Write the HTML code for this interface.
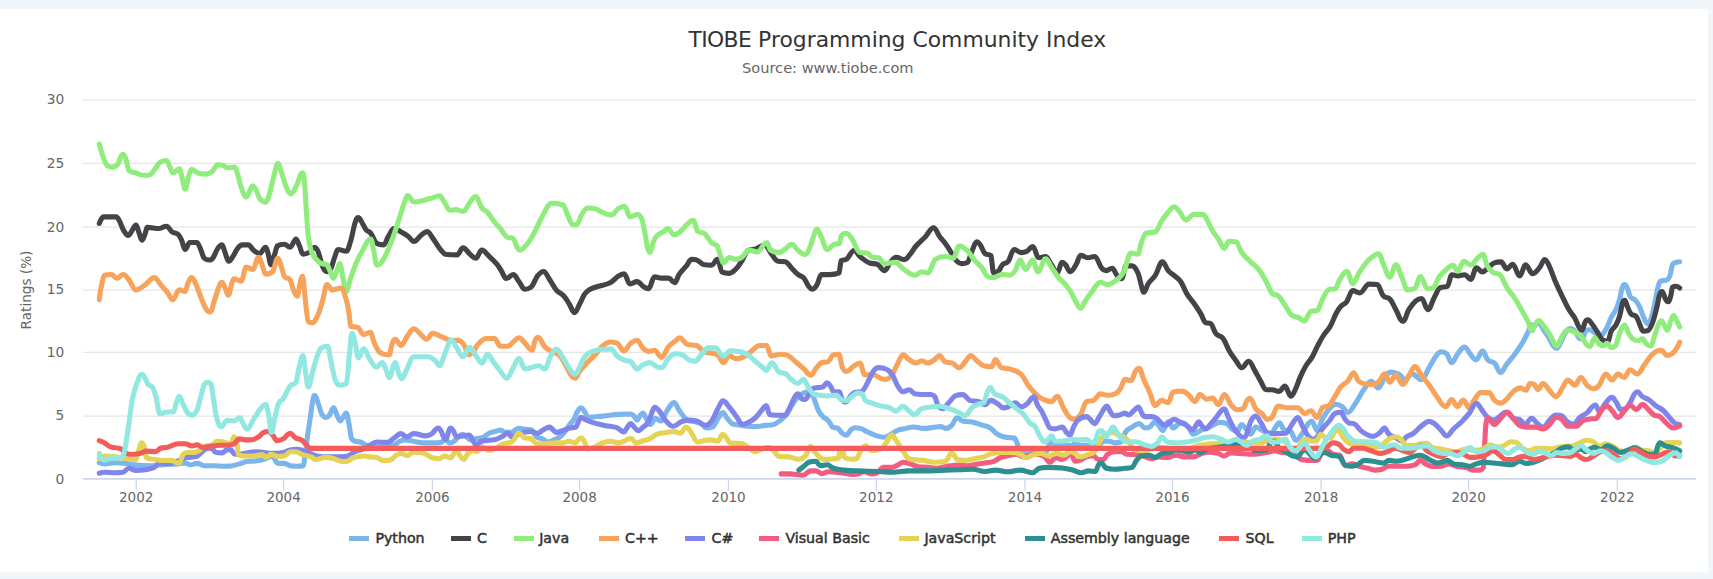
<!DOCTYPE html>
<html><head><meta charset="utf-8"><title>TIOBE Programming Community Index</title>
<style>
html,body{margin:0;padding:0;background:#f1f6fb;}
body{width:1713px;height:579px;position:relative;overflow:hidden;}
.card{position:absolute;left:0;top:9px;width:1708px;height:563px;background:#fff;}
.t{position:absolute;white-space:nowrap;}
</style></head><body>
<div class="card"></div>
<svg width="1713" height="579" viewBox="0 0 1713 579" style="position:absolute;left:0;top:0">
<line x1="83" x2="1696" y1="416.1" y2="416.1" stroke="#e6e6e6" stroke-width="1.25"/>
<line x1="83" x2="1696" y1="352.4" y2="352.4" stroke="#e6e6e6" stroke-width="1.25"/>
<line x1="83" x2="1696" y1="290.0" y2="290.0" stroke="#e6e6e6" stroke-width="1.25"/>
<line x1="83" x2="1696" y1="227.1" y2="227.1" stroke="#e6e6e6" stroke-width="1.25"/>
<line x1="83" x2="1696" y1="163.4" y2="163.4" stroke="#e6e6e6" stroke-width="1.25"/>
<line x1="83" x2="1696" y1="100.0" y2="100.0" stroke="#e6e6e6" stroke-width="1.25"/>
<line x1="83" x2="1696" y1="478.9" y2="478.9" stroke="#ccd6eb" stroke-width="1.6"/>
<line x1="136.2" x2="136.2" y1="478.9" y2="490.7" stroke="#ccd6eb" stroke-width="1.25"/>
<line x1="283.6" x2="283.6" y1="478.9" y2="490.7" stroke="#ccd6eb" stroke-width="1.25"/>
<line x1="432.4" x2="432.4" y1="478.9" y2="490.7" stroke="#ccd6eb" stroke-width="1.25"/>
<line x1="579.6" x2="579.6" y1="478.9" y2="490.7" stroke="#ccd6eb" stroke-width="1.25"/>
<line x1="728.5" x2="728.5" y1="478.9" y2="490.7" stroke="#ccd6eb" stroke-width="1.25"/>
<line x1="876.3" x2="876.3" y1="478.9" y2="490.7" stroke="#ccd6eb" stroke-width="1.25"/>
<line x1="1025.0" x2="1025.0" y1="478.9" y2="490.7" stroke="#ccd6eb" stroke-width="1.25"/>
<line x1="1172.5" x2="1172.5" y1="478.9" y2="490.7" stroke="#ccd6eb" stroke-width="1.25"/>
<line x1="1321.1" x2="1321.1" y1="478.9" y2="490.7" stroke="#ccd6eb" stroke-width="1.25"/>
<line x1="1468.6" x2="1468.6" y1="478.9" y2="490.7" stroke="#ccd6eb" stroke-width="1.25"/>
<line x1="1617.3" x2="1617.3" y1="478.9" y2="490.7" stroke="#ccd6eb" stroke-width="1.25"/>
<path d="M99.3 462.7C99.3 462.7 102.4 463.9 104.5 463.9C108.7 463.9 110.8 462.7 115.0 462.7C119.2 462.7 121.3 462.9 125.5 463.4C129.7 463.9 131.8 464.7 136.0 465.1C141.6 465.6 144.5 465.7 150.1 465.7C157.1 465.7 160.6 464.8 167.6 464.4C171.8 464.1 173.9 464.2 178.1 463.9C180.9 463.7 182.3 463.0 185.1 463.0C187.2 463.0 188.2 464.8 190.3 464.8C193.1 464.8 194.5 463.4 197.3 463.4C200.1 463.4 201.5 465.7 204.3 465.7C208.5 465.7 210.7 465.7 214.9 465.7C218.4 465.7 220.1 466.2 223.6 466.2C227.1 466.2 228.9 466.2 232.4 465.7C235.2 465.2 236.6 464.7 239.4 463.9C242.2 463.1 243.6 462.1 246.4 461.6C249.9 460.9 251.6 461.4 255.1 460.9C258.6 460.4 260.4 460.1 263.9 459.2C266.3 458.5 267.6 457.8 270.0 456.9C271.0 456.5 271.6 456.0 272.6 456.0C273.7 456.0 274.2 458.9 275.3 460.4C276.3 461.9 276.9 463.4 277.9 463.4C280.3 463.4 281.6 463.4 284.0 463.4C286.5 463.4 287.7 465.2 290.2 465.7C293.0 466.2 294.4 466.2 297.2 466.2C299.6 466.2 300.9 466.2 303.3 465.7C304.0 465.2 304.3 460.7 305.0 456.0C306.1 448.5 306.6 442.8 307.7 435.0C308.7 427.4 309.3 424.5 310.3 417.5C311.3 410.5 311.9 405.3 312.9 400.0C313.6 396.4 314.0 395.2 314.7 395.2C316.1 395.2 316.8 399.6 318.2 403.4C319.6 407.2 320.3 411.5 321.7 414.0C323.5 417.1 324.3 417.5 326.1 417.5C327.5 417.5 328.2 416.7 329.6 414.9C331.2 412.9 332.0 407.9 333.6 407.9C334.8 407.9 335.4 411.6 336.6 414.0C338.0 416.8 338.7 421.0 340.1 421.0C341.5 421.0 342.2 418.4 343.6 416.6C344.6 415.3 345.2 413.1 346.2 413.1C347.2 413.1 347.8 417.8 348.8 422.8C349.9 428.0 350.4 435.8 351.5 438.5C352.9 441.2 353.6 440.4 355.0 441.2C357.1 442.0 358.1 441.3 360.2 442.0C363.0 443.0 364.4 444.8 367.2 445.5C372.3 446.8 374.9 447.0 380.0 447.0C383.0 447.0 384.5 446.0 387.5 445.5C390.3 445.1 391.7 445.5 394.5 444.7C396.6 443.9 397.7 442.2 399.8 441.2C401.9 440.2 402.9 439.9 405.0 439.9C409.2 439.9 411.3 441.1 415.5 441.7C419.7 442.3 421.8 442.9 426.0 442.9C430.2 442.9 432.3 442.9 436.5 442.9C438.6 442.9 439.7 442.8 441.8 442.0C443.2 441.4 443.9 439.4 445.3 439.4C447.1 439.4 447.9 442.9 449.7 442.9C451.5 442.9 452.3 442.5 454.1 441.2C456.2 439.7 457.2 437.6 459.3 435.9C460.7 434.8 461.4 434.2 462.8 434.2C464.6 434.2 465.4 436.4 467.2 437.7C468.6 438.7 469.3 439.9 470.7 439.9C473.1 439.9 474.4 439.0 476.8 438.5C478.9 438.1 480.0 438.5 482.1 437.7C484.9 436.9 486.3 434.6 489.1 433.3C491.9 432.0 493.3 432.0 496.1 431.2C497.9 430.7 498.7 430.1 500.5 430.1C502.6 430.1 503.6 432.4 505.7 432.4C508.2 432.4 509.4 432.4 511.9 432.4C513.3 432.4 514.0 430.6 515.4 429.8C516.8 429.0 517.5 428.4 518.9 428.4C521.7 428.4 523.1 429.1 525.9 429.4C528.0 429.6 529.0 429.4 531.1 429.8C533.2 430.2 534.3 435.1 536.4 436.8C538.8 438.7 540.1 437.8 542.5 438.9C544.6 439.9 545.7 442.0 547.8 442.0C550.2 442.0 551.5 440.9 553.9 439.9C556.3 438.9 557.6 438.5 560.0 436.8C561.8 435.5 562.6 434.6 564.4 432.4C566.5 429.7 567.6 427.4 569.7 424.5C571.4 422.2 572.3 422.2 574.0 419.3C575.4 416.9 576.1 413.7 577.5 411.4C578.9 409.1 579.6 407.9 581.0 407.9C582.4 407.9 583.1 409.5 584.5 411.4C585.9 413.3 586.6 417.2 588.0 417.2C594.0 417.2 596.9 416.6 602.9 416.1C609.2 415.5 612.4 414.9 618.7 414.4C623.6 414.0 626.1 414.0 631.0 414.0C632.4 414.0 633.1 415.2 634.5 416.6C635.5 417.6 636.1 420.1 637.1 420.1C638.5 420.1 639.2 416.6 640.6 414.9C641.5 413.8 642.0 413.1 642.9 413.1C644.1 413.1 644.6 415.7 645.8 417.5C647.6 420.2 648.4 424.5 650.2 424.5C652.3 424.5 653.4 418.4 655.5 418.4C657.7 418.4 658.8 421.0 661.0 421.0C663.0 421.0 664.1 415.7 666.1 412.3C667.9 409.4 668.7 407.5 670.5 405.3C671.9 403.6 672.6 402.6 674.0 402.6C676.1 402.6 677.2 407.6 679.3 410.5C682.1 414.3 683.5 417.3 686.3 419.3C689.8 421.8 691.5 420.9 695.0 421.9C697.5 422.6 698.7 422.3 701.2 423.6C703.3 424.7 704.3 428.0 706.4 428.0C708.8 428.0 710.1 428.0 712.5 427.1C715.0 426.2 716.2 420.9 718.7 417.5C720.4 415.1 721.3 412.6 723.0 412.6C724.4 412.6 725.2 415.7 726.6 417.5C728.7 420.1 729.7 421.8 731.8 423.6C736.0 425.4 738.1 424.8 742.3 425.4C747.2 426.0 749.7 426.6 754.6 426.6C758.8 426.6 760.9 425.9 765.1 425.4C768.6 425.0 770.3 425.4 773.8 424.5C776.8 423.6 778.4 421.8 781.4 419.4C783.6 417.6 784.8 416.9 787.0 413.9C789.0 411.2 790.0 408.2 792.0 405.0C794.0 401.8 795.0 400.2 797.0 398.0C799.0 395.8 800.0 395.3 802.0 394.0C803.7 392.9 804.6 392.0 806.3 392.0C808.5 392.0 809.6 392.0 811.8 393.1C812.9 394.2 813.5 397.2 814.6 400.1C816.2 404.4 817.1 407.8 818.7 411.1C820.4 414.4 821.2 414.9 822.9 416.6C825.1 418.8 826.2 418.4 828.4 420.8C830.0 422.6 830.9 425.6 832.5 427.0C834.7 428.4 835.9 427.0 838.1 428.4C839.7 429.8 840.6 431.8 842.2 433.2C843.9 434.6 844.7 435.3 846.4 435.3C848.0 435.3 848.9 431.9 850.5 430.4C852.1 428.9 853.0 427.7 854.6 427.7C856.8 427.7 858.0 427.7 860.2 428.4C863.0 429.1 864.3 430.5 867.1 431.8C870.4 433.3 872.1 434.2 875.4 435.3C878.7 436.4 880.3 437.3 883.6 437.3C886.4 437.3 887.8 436.0 890.6 434.6C893.4 433.2 894.7 431.5 897.5 430.4C900.8 429.1 902.4 429.1 905.7 428.4C909.0 427.7 910.7 427.0 914.0 427.0C917.9 427.0 919.8 428.4 923.7 428.4C927.6 428.4 929.5 427.8 933.4 427.4C936.3 427.1 937.7 426.6 940.6 426.6C942.9 426.6 944.1 428.4 946.4 428.4C948.7 428.4 949.9 427.2 952.2 424.9C954.1 423.0 955.1 417.7 957.0 417.7C959.2 417.7 960.3 420.1 962.5 421.0C966.3 421.9 968.3 421.1 972.1 421.9C975.8 422.7 977.7 423.7 981.4 424.9C985.0 426.1 986.7 425.9 990.3 428.0C993.1 429.6 994.5 432.4 997.3 434.2C1000.1 436.0 1001.5 436.5 1004.3 437.1C1008.5 438.1 1010.6 437.1 1014.8 438.2C1015.8 439.3 1016.4 441.2 1017.4 443.8C1018.1 445.6 1018.5 448.4 1019.2 449.0C1022.4 451.6 1023.9 451.7 1027.1 451.7C1034.8 451.7 1038.6 451.7 1046.3 451.7C1047.3 451.7 1047.9 447.6 1048.9 445.5C1050.0 443.4 1050.5 441.2 1051.6 441.2C1053.0 441.2 1053.7 444.9 1055.1 445.2C1062.1 445.5 1065.6 445.5 1072.6 445.5C1073.6 445.5 1074.2 442.9 1075.2 442.9C1077.0 442.9 1077.8 445.2 1079.6 445.2C1083.1 445.2 1084.9 445.2 1088.4 445.2C1092.6 445.2 1094.7 445.2 1098.9 444.7C1101.0 444.2 1102.0 441.2 1104.1 441.2C1106.2 441.2 1107.3 441.2 1109.4 441.2C1111.5 441.2 1112.5 442.9 1114.6 442.9C1117.1 442.9 1118.3 442.9 1120.8 442.0C1121.8 441.1 1122.4 438.9 1123.4 436.8C1124.4 434.7 1125.0 432.7 1126.0 431.5C1128.4 428.8 1129.7 428.6 1132.1 427.1C1134.9 425.4 1136.3 423.6 1139.1 423.6C1141.6 423.6 1142.8 428.0 1145.3 428.0C1147.0 428.0 1147.9 428.0 1149.6 427.1C1151.7 426.2 1152.8 421.9 1154.9 421.9C1156.7 421.9 1157.5 424.4 1159.3 426.3C1160.7 427.8 1161.4 430.6 1162.8 430.6C1164.9 430.6 1165.9 421.9 1168.0 421.9C1170.1 421.9 1171.2 428.0 1173.3 428.0C1175.1 428.0 1175.9 425.5 1177.7 424.5C1179.8 423.4 1180.8 422.8 1182.9 422.8C1185.0 422.8 1186.1 424.8 1188.2 427.1C1190.3 429.4 1191.3 434.2 1193.4 434.2C1195.5 434.2 1196.6 432.6 1198.7 431.5C1200.8 430.5 1201.8 429.8 1203.9 428.9C1206.7 427.7 1208.1 427.5 1210.9 426.3C1214.4 424.9 1216.2 422.4 1219.7 422.4C1222.5 422.4 1223.9 422.4 1226.7 423.6C1228.8 424.8 1229.9 427.3 1232.0 428.9C1234.1 430.5 1235.1 431.5 1237.2 431.5C1239.0 431.5 1239.8 424.5 1241.6 424.5C1243.1 424.5 1243.8 426.4 1245.3 428.0C1247.4 430.3 1248.4 434.2 1250.5 434.2C1252.6 434.2 1253.7 427.1 1255.8 427.1C1258.6 427.1 1260.0 429.5 1262.8 430.6C1266.3 432.0 1268.0 433.3 1271.5 433.3C1272.9 433.3 1273.6 429.9 1275.0 428.0C1276.8 425.7 1277.6 422.8 1279.4 422.8C1281.2 422.8 1282.0 428.1 1283.8 429.8C1286.6 431.5 1288.0 429.8 1290.8 431.5C1292.9 433.2 1293.9 440.3 1296.0 440.3C1298.1 440.3 1299.2 437.9 1301.3 435.0C1304.1 431.2 1305.5 427.3 1308.3 423.6C1309.7 421.7 1310.4 421.0 1311.8 421.0C1313.9 421.0 1315.0 430.6 1317.1 430.6C1319.2 430.6 1320.2 423.0 1322.3 419.3C1325.1 414.3 1326.5 411.9 1329.3 408.9C1332.1 405.9 1333.4 404.2 1336.2 404.2C1338.6 404.2 1339.7 404.9 1342.1 406.6C1344.4 408.2 1345.6 412.4 1347.9 412.4C1350.7 412.4 1352.1 408.2 1354.9 404.2C1358.6 398.9 1360.5 394.3 1364.2 389.1C1367.0 385.2 1368.4 381.4 1371.2 381.4C1374.0 381.4 1375.4 387.9 1378.2 387.9C1381.0 387.9 1382.4 379.7 1385.2 376.2C1387.5 373.3 1388.7 372.1 1391.0 372.1C1394.3 372.1 1395.9 372.6 1399.2 374.4C1401.5 375.7 1402.7 379.7 1405.0 379.7C1407.8 379.7 1409.2 373.9 1412.0 373.9C1415.7 373.9 1417.6 379.7 1421.3 379.7C1424.6 379.7 1426.2 372.2 1429.5 366.9C1432.3 362.4 1433.7 358.9 1436.5 355.3C1438.3 352.9 1439.3 351.8 1441.1 351.8C1443.5 351.8 1444.6 351.8 1447.0 354.1C1448.8 356.4 1449.8 362.7 1451.6 362.7C1454.0 362.7 1455.1 357.0 1457.5 354.1C1460.3 350.7 1461.7 347.1 1464.5 347.1C1466.8 347.1 1468.0 351.5 1470.3 354.1C1472.6 356.7 1473.8 359.9 1476.1 359.9C1478.7 359.9 1480.0 351.1 1482.6 351.1C1484.7 351.1 1485.7 357.8 1487.8 359.9C1490.6 362.7 1492.0 360.6 1494.8 363.4C1497.1 365.7 1498.3 372.7 1500.6 372.7C1502.9 372.7 1504.1 367.6 1506.4 364.6C1510.1 359.7 1512.0 358.0 1515.7 352.9C1518.5 349.1 1519.9 347.2 1522.7 342.4C1525.1 338.4 1526.2 335.5 1528.6 330.8C1529.7 328.5 1530.3 324.9 1531.4 324.9C1532.6 324.9 1533.1 326.0 1534.3 326.0C1536.0 326.0 1536.9 322.5 1538.6 322.5C1540.7 322.5 1541.7 327.2 1543.8 330.3C1545.9 333.4 1546.9 334.7 1549.0 338.1C1550.7 340.9 1551.6 343.6 1553.3 345.9C1554.7 347.7 1555.4 348.4 1556.8 348.4C1558.5 348.4 1559.4 344.6 1561.1 341.5C1563.2 337.7 1564.2 334.0 1566.3 331.2C1568.0 328.9 1568.9 328.6 1570.6 328.6C1572.3 328.6 1573.2 329.3 1574.9 331.2C1577.0 333.5 1578.0 338.9 1580.1 338.9C1581.1 338.9 1581.7 338.9 1582.7 338.1C1584.1 337.3 1584.7 330.8 1586.1 330.3C1587.5 329.8 1588.2 329.8 1589.6 329.8C1591.7 329.8 1592.7 331.5 1594.8 332.9C1596.5 334.1 1597.4 336.4 1599.1 336.4C1600.5 336.4 1601.1 336.1 1602.5 334.6C1604.3 332.6 1605.1 331.2 1606.9 327.7C1608.6 324.3 1609.5 320.8 1611.2 317.4C1613.3 313.2 1614.3 313.3 1616.4 308.7C1617.8 305.7 1618.4 303.3 1619.8 298.4C1620.8 294.7 1621.4 289.7 1622.4 287.1C1623.3 284.5 1623.8 284.5 1624.7 284.5C1625.9 284.5 1626.4 286.3 1627.6 288.9C1628.6 291.2 1629.2 295.1 1630.2 296.6C1632.3 299.6 1633.3 297.8 1635.4 300.1C1637.1 302.0 1638.0 303.4 1639.7 307.0C1641.4 310.6 1642.3 314.7 1644.0 318.2C1645.7 321.7 1646.6 324.3 1648.3 324.3C1649.3 324.3 1649.9 322.3 1650.9 319.1C1652.3 314.7 1653.0 311.6 1654.4 305.3C1655.8 299.2 1656.4 293.5 1657.8 288.0C1658.8 283.8 1659.4 282.0 1660.4 281.1C1662.8 280.2 1664.0 281.1 1666.4 280.2C1667.8 279.3 1668.5 279.5 1669.9 275.9C1670.9 273.3 1671.5 267.0 1672.5 264.7C1673.9 262.4 1674.5 263.0 1675.9 262.4C1677.4 261.8 1679.7 261.7 1679.7 261.7" fill="none" stroke="#7cb5ec" stroke-width="5.1" stroke-linejoin="round" stroke-linecap="round"/>
<path d="M99.3 223.4C99.3 223.4 101.8 216.9 103.4 216.9C108.5 216.9 111.1 216.9 116.2 216.9C117.6 216.9 118.3 218.9 119.7 221.5C121.1 224.1 121.8 227.4 123.2 229.7C125.2 233.0 126.3 235.5 128.3 235.5C130.0 235.5 130.8 232.0 132.5 229.7C133.9 227.8 134.6 225.0 136.0 225.0C137.1 225.0 137.7 229.1 138.8 232.0C140.0 235.2 140.7 240.2 141.9 240.2C143.1 240.2 143.7 237.2 144.9 234.4C145.9 232.1 146.3 227.4 147.3 227.4C152.1 227.4 154.6 228.5 159.4 228.5C162.2 228.5 163.6 226.2 166.4 226.2C168.7 226.2 169.9 230.4 172.2 232.0C174.6 233.7 175.7 232.3 178.1 234.4C179.5 235.6 180.2 237.2 181.6 240.2C183.0 243.2 183.7 249.5 185.1 249.5C187.0 249.5 187.9 242.5 189.8 242.5C192.6 242.5 194.0 242.5 196.8 242.5C198.2 242.5 198.9 245.4 200.3 248.4C201.7 251.4 202.4 255.4 203.8 257.7C206.1 260.0 207.3 260.0 209.6 260.0C211.0 260.0 211.7 259.7 213.1 257.7C215.0 255.0 215.9 251.1 217.8 248.4C219.5 246.0 220.3 244.9 222.0 244.9C223.3 244.9 223.9 249.9 225.2 253.0C226.6 256.4 227.3 261.2 228.7 261.2C230.4 261.2 231.2 258.9 232.9 256.5C234.8 253.8 235.7 250.7 237.6 248.4C239.5 246.1 240.4 244.9 242.3 244.9C244.6 244.9 245.8 244.9 248.1 244.9C250.5 244.9 251.6 249.0 254.0 250.7C256.3 252.4 257.5 253.5 259.8 253.5C262.1 253.5 263.3 247.2 265.6 247.2C266.6 247.2 267.0 249.9 268.0 253.0C269.2 256.9 269.8 264.7 271.0 264.7C272.3 264.7 273.0 259.3 274.3 255.4C275.5 251.8 276.1 247.8 277.3 246.0C280.1 244.2 281.5 244.2 284.3 244.2C286.7 244.2 287.8 247.2 290.2 247.2C292.5 247.2 293.7 239.0 296.0 239.0C297.4 239.0 298.1 243.0 299.5 246.0C300.9 249.0 301.6 254.2 303.0 254.2C305.8 254.2 307.2 253.6 310.0 251.9C311.9 250.8 312.8 247.2 314.7 247.2C316.1 247.2 316.8 248.5 318.2 251.9C320.0 256.4 321.0 262.9 322.8 267.0C324.5 270.8 325.3 271.7 327.0 271.7C328.6 271.7 329.4 271.2 331.0 268.2C332.4 265.6 333.1 261.4 334.5 257.7C335.9 254.0 336.6 249.5 338.0 249.5C341.3 249.5 342.9 251.2 346.2 251.2C348.1 251.2 349.0 246.2 350.9 240.2C352.6 234.8 353.4 227.8 355.1 222.7C356.4 218.8 357.0 217.6 358.3 217.6C359.5 217.6 360.2 219.6 361.4 221.5C363.2 224.4 364.2 227.4 366.0 229.7C367.9 232.1 368.8 230.8 370.7 233.2C373.1 236.2 374.2 241.5 376.6 243.2C379.4 244.9 380.8 244.9 383.6 244.9C385.4 244.9 386.4 239.6 388.2 236.7C390.6 233.0 391.7 228.5 394.1 228.5C396.9 228.5 398.3 230.5 401.1 232.0C403.9 233.5 405.3 234.1 408.1 236.2C410.4 237.9 411.6 241.4 413.9 241.4C416.7 241.4 418.1 237.6 420.9 235.5C423.4 233.6 424.7 231.6 427.2 231.6C429.4 231.6 430.4 235.0 432.6 237.9C435.4 241.7 436.8 244.8 439.6 248.4C441.9 251.4 443.1 253.5 445.4 254.2C450.1 254.9 452.4 254.9 457.1 254.9C459.5 254.9 460.6 247.9 463.0 247.9C465.8 247.9 467.2 251.9 470.0 254.2C472.3 256.1 473.5 258.2 475.8 258.2C478.2 258.2 479.3 250.1 481.7 250.1C484.5 250.1 485.9 253.3 488.7 255.9C492.0 258.9 493.6 260.2 496.9 264.1C498.7 266.3 499.7 268.3 501.5 271.1C503.4 274.0 504.3 278.5 506.2 278.5C509.0 278.5 510.4 274.6 513.2 274.6C515.5 274.6 516.7 278.7 519.0 281.6C521.4 284.6 522.5 289.3 524.9 289.3C527.2 289.3 528.4 289.3 530.7 287.4C533.5 285.5 534.9 279.2 537.7 275.7C540.1 272.8 541.2 271.5 543.6 271.5C545.9 271.5 547.1 275.8 549.4 279.2C552.2 283.3 553.6 286.9 556.4 290.2C559.2 293.5 560.6 292.6 563.4 295.6C565.7 298.1 566.9 300.2 569.2 303.8C571.3 307.0 572.3 312.6 574.4 312.6C576.6 312.6 577.6 307.7 579.8 303.8C581.6 300.5 582.6 297.2 584.4 294.4C586.3 291.6 587.2 291.0 589.1 289.8C591.9 288.0 593.3 287.9 596.1 287.0C601.7 285.1 604.5 285.4 610.1 282.7C613.4 281.1 615.0 278.3 618.3 276.2C620.6 274.7 621.8 273.9 624.1 273.9C626.5 273.9 627.6 283.9 630.0 283.9C632.8 283.9 634.2 281.6 637.0 281.6C639.8 281.6 641.2 285.3 644.0 287.0C645.8 288.1 646.8 288.6 648.6 288.6C651.0 288.6 652.1 276.9 654.5 276.9C657.3 276.9 658.7 278.1 661.5 278.1C664.3 278.1 665.7 278.1 668.5 278.1C671.0 278.1 672.3 282.7 674.8 282.7C676.5 282.7 677.3 277.0 679.0 274.6C681.8 270.5 683.2 269.7 686.0 266.4C688.3 263.6 689.5 259.4 691.8 259.4C693.7 259.4 694.6 259.4 696.5 259.9C699.3 260.4 700.7 263.8 703.5 264.5C706.8 265.2 708.4 265.2 711.7 265.2C714.0 265.2 715.2 259.4 717.5 259.4C719.4 259.4 720.3 271.0 722.2 272.2C725.0 273.4 726.4 273.4 729.2 273.4C732.0 273.4 733.4 271.5 736.2 268.7C738.5 266.4 739.7 264.2 742.0 260.6C744.4 256.9 745.5 252.1 747.9 250.5C751.1 248.9 752.8 250.0 756.0 248.9C759.5 247.7 761.2 244.9 764.7 244.9C767.3 244.9 768.6 250.4 771.2 253.6C774.0 257.0 775.4 260.9 778.2 261.3C781.0 261.7 782.4 261.3 785.2 261.7C788.0 262.1 789.4 265.9 792.2 268.7C794.6 271.1 795.7 272.7 798.1 274.6C800.4 276.5 801.6 275.5 803.9 278.1C805.8 280.2 806.7 283.6 808.6 286.2C810.0 288.1 810.7 289.3 812.1 289.3C814.0 289.3 814.9 288.1 816.8 285.1C818.6 282.2 819.6 274.6 821.4 274.6C824.7 274.6 826.3 274.6 829.6 274.6C833.4 274.6 835.2 274.6 839.0 272.9C839.9 271.2 840.4 261.8 841.3 260.6C843.2 259.4 844.1 260.6 846.0 259.4C849.2 258.2 850.9 250.5 854.1 250.5C856.5 250.5 857.6 254.6 860.0 256.5C863.7 259.5 865.6 261.5 869.3 262.9C872.6 264.3 874.2 262.9 877.5 264.3C880.3 265.7 881.7 270.6 884.5 270.6C886.9 270.6 888.0 265.1 890.4 262.4C892.7 259.8 893.9 257.3 896.2 257.3C899.5 257.3 901.1 259.6 904.4 259.6C906.7 259.6 907.9 256.9 910.2 254.2C912.5 251.5 913.7 248.7 916.0 246.0C919.8 241.7 921.6 240.6 925.4 236.7C928.7 233.3 930.3 227.8 933.6 227.8C935.9 227.8 937.1 233.1 939.4 236.2C942.2 239.9 943.6 241.0 946.4 244.9C948.7 248.2 949.9 250.6 952.2 254.2C954.1 257.1 955.0 259.3 956.9 261.2C958.8 263.1 959.7 263.6 961.6 263.6C963.9 263.6 965.1 263.6 967.4 262.4C969.3 261.2 970.2 254.8 972.1 250.7C974.0 246.6 974.9 241.8 976.8 241.8C978.2 241.8 978.9 242.9 980.3 244.9C982.1 247.6 983.1 251.6 984.9 253.5C987.3 255.4 988.4 253.5 990.8 255.4C991.9 257.3 992.5 272.9 993.6 272.9C995.7 272.9 996.8 272.6 998.9 270.6C1000.3 269.3 1001.0 266.1 1002.4 264.7C1004.8 262.3 1005.9 264.3 1008.3 261.2C1010.6 258.2 1011.8 249.5 1014.1 249.5C1016.9 249.5 1018.3 252.6 1021.1 252.6C1023.5 252.6 1024.6 252.4 1027.0 251.2C1029.3 250.0 1030.5 246.5 1032.8 246.5C1035.1 246.5 1036.3 257.7 1038.6 257.7C1041.4 257.7 1042.8 256.5 1045.6 256.5C1048.0 256.5 1049.1 261.4 1051.5 264.7C1053.8 268.0 1055.0 272.9 1057.3 272.9C1059.2 272.9 1060.1 262.4 1062.0 262.4C1063.4 262.4 1064.1 263.1 1065.5 264.7C1067.4 266.8 1068.3 271.7 1070.2 271.7C1072.5 271.7 1073.7 268.3 1076.0 264.7C1077.9 261.8 1078.8 255.4 1080.7 255.4C1083.5 255.4 1084.9 257.7 1087.7 257.7C1090.5 257.7 1091.9 256.5 1094.7 256.5C1097.5 256.5 1098.9 264.8 1101.7 268.2C1103.5 270.4 1104.5 270.6 1106.3 270.6C1108.7 270.6 1109.8 268.2 1112.2 268.2C1114.1 268.2 1115.0 273.1 1116.9 275.2C1118.7 277.3 1119.7 278.7 1121.5 278.7C1123.4 278.7 1124.3 265.9 1126.2 265.9C1128.5 265.9 1129.7 265.9 1132.0 265.9C1134.4 265.9 1135.5 267.9 1137.9 272.9C1139.3 275.8 1140.0 281.0 1141.4 285.7C1142.3 288.8 1142.8 292.3 1143.7 292.3C1145.6 292.3 1146.5 286.1 1148.4 283.4C1151.2 279.3 1152.6 279.5 1155.4 275.2C1158.2 270.9 1159.6 261.9 1162.4 261.9C1164.7 261.9 1165.9 268.0 1168.2 270.6C1171.0 273.8 1172.4 273.9 1175.2 276.4C1177.6 278.5 1178.7 278.7 1181.1 282.2C1183.4 285.7 1184.6 290.1 1186.9 293.9C1189.7 298.5 1191.1 299.2 1193.9 303.2C1196.7 307.2 1198.1 309.2 1200.9 313.8C1202.8 316.9 1203.7 321.8 1205.6 322.6C1207.5 323.4 1208.4 322.6 1210.3 323.4C1212.6 324.2 1213.8 331.2 1216.1 333.9C1218.9 337.2 1220.3 334.9 1223.1 338.5C1225.4 341.5 1226.6 346.2 1228.9 350.2C1231.7 355.1 1233.2 356.8 1236.0 360.7C1238.3 363.8 1239.5 367.7 1241.8 367.7C1244.6 367.7 1246.0 361.2 1248.8 361.2C1251.2 361.2 1252.3 366.4 1254.7 370.4C1257.0 374.3 1258.2 377.0 1260.5 380.9C1262.8 384.8 1264.0 389.8 1266.3 389.8C1268.6 389.8 1269.8 389.8 1272.1 389.8C1274.9 389.8 1276.3 391.4 1279.1 391.4C1281.5 391.4 1282.6 386.0 1285.0 386.0C1287.3 386.0 1288.5 396.1 1290.8 396.1C1292.7 396.1 1293.6 392.9 1295.5 389.1C1297.3 385.4 1298.3 381.5 1300.1 377.4C1302.4 372.2 1303.6 369.7 1305.9 365.8C1308.3 361.8 1309.4 361.6 1311.8 357.6C1314.1 353.7 1315.3 350.3 1317.6 345.9C1319.9 341.5 1321.1 339.1 1323.4 335.5C1326.2 331.2 1327.6 331.0 1330.4 326.1C1332.7 322.1 1333.9 317.7 1336.2 313.3C1338.1 309.8 1339.0 308.4 1340.9 306.3C1343.2 303.7 1344.4 304.8 1346.7 301.7C1349.1 298.5 1350.3 290.6 1352.7 290.6C1355.5 290.6 1356.9 292.9 1359.7 292.9C1363.5 292.9 1365.3 284.1 1369.1 284.1C1372.4 284.1 1374.0 284.1 1377.3 284.5C1379.6 284.9 1380.8 293.0 1383.1 295.7C1385.9 298.9 1387.3 296.1 1390.1 299.2C1392.4 301.7 1393.6 305.7 1395.9 309.7C1398.7 314.6 1400.1 321.4 1402.9 321.4C1405.3 321.4 1406.4 313.5 1408.8 309.7C1411.6 305.3 1413.0 303.4 1415.8 300.9C1418.1 298.9 1419.3 298.5 1421.6 298.5C1424.1 298.5 1425.4 309.7 1427.9 309.7C1430.5 309.7 1431.9 301.6 1434.5 296.9C1436.8 292.8 1438.0 288.8 1440.3 287.6C1443.1 286.4 1444.5 287.6 1447.3 286.4C1449.2 285.2 1450.1 274.7 1452.0 274.7C1454.3 274.7 1455.5 275.9 1457.8 275.9C1460.6 275.9 1462.0 274.7 1464.8 274.7C1467.2 274.7 1468.3 279.4 1470.7 279.4C1473.0 279.4 1474.2 267.7 1476.5 267.7C1478.8 267.7 1480.0 271.9 1482.3 271.9C1484.7 271.9 1485.8 269.5 1488.2 267.7C1490.5 265.9 1491.7 264.1 1494.0 263.0C1496.8 261.9 1498.2 261.9 1501.0 261.9C1503.4 261.9 1504.5 268.9 1506.9 268.9C1509.2 268.9 1510.4 264.2 1512.7 264.2C1515.5 264.2 1516.9 275.9 1519.7 275.9C1522.0 275.9 1523.2 264.9 1525.5 264.9C1528.3 264.9 1529.8 273.6 1532.6 273.6C1533.6 273.6 1534.2 273.5 1535.2 272.5C1537.3 270.6 1538.3 269.2 1540.4 266.4C1542.1 264.0 1543.0 259.5 1544.7 259.5C1546.4 259.5 1547.3 261.9 1549.0 265.5C1551.8 271.2 1553.1 276.4 1555.9 282.8C1558.7 289.2 1560.0 291.8 1562.8 297.5C1565.2 302.5 1566.5 305.4 1568.9 309.6C1571.3 313.7 1572.5 314.1 1574.9 318.2C1576.3 320.6 1577.0 323.5 1578.4 326.0C1579.8 328.4 1580.4 330.3 1581.8 330.3C1583.2 330.3 1583.9 324.1 1585.3 321.7C1586.3 319.9 1586.9 319.9 1587.9 319.9C1589.6 319.9 1590.5 322.1 1592.2 324.3C1594.3 326.9 1595.3 328.9 1597.4 332.0C1599.4 335.1 1600.5 338.1 1602.5 339.8C1604.6 341.5 1605.6 341.5 1607.7 341.5C1609.1 341.5 1609.8 334.0 1611.2 331.2C1613.3 327.1 1614.3 328.1 1616.4 324.3C1617.8 321.8 1618.4 320.3 1619.8 315.6C1620.8 312.0 1621.4 306.7 1622.4 303.5C1623.3 300.6 1623.8 300.4 1624.7 300.4C1625.9 300.4 1626.4 304.5 1627.6 307.0C1629.0 309.9 1629.6 312.4 1631.0 313.9C1633.1 316.2 1634.1 314.0 1636.2 316.5C1637.6 318.2 1638.3 321.3 1639.7 324.3C1641.1 327.2 1641.7 331.2 1643.1 331.2C1645.2 331.2 1646.2 331.2 1648.3 330.3C1650.0 329.4 1650.9 327.2 1652.6 322.5C1654.3 317.8 1655.2 313.7 1656.9 307.0C1658.1 302.3 1658.7 296.5 1659.9 294.0C1660.8 291.5 1661.2 291.5 1662.1 291.5C1663.5 291.5 1664.2 296.8 1665.6 299.2C1666.6 301.0 1667.2 301.8 1668.2 301.8C1669.2 301.8 1669.8 299.4 1670.8 295.8C1671.5 293.5 1671.8 287.9 1672.5 287.1C1673.9 286.3 1674.5 286.3 1675.9 286.3C1677.4 286.3 1679.7 288.0 1679.7 288.0" fill="none" stroke="#434348" stroke-width="5.1" stroke-linejoin="round" stroke-linecap="round"/>
<path d="M99.3 144.2C99.3 144.2 101.8 153.4 103.4 157.7C105.1 162.1 105.9 164.7 107.6 165.9C109.6 167.1 110.7 167.1 112.7 167.1C114.6 167.1 115.5 167.1 117.4 164.7C119.5 162.3 120.6 154.2 122.7 154.2C123.8 154.2 124.4 154.8 125.5 157.7C126.9 161.3 127.6 168.3 129.0 170.6C131.8 172.9 133.2 172.0 136.0 172.9C138.8 173.8 140.2 175.2 143.0 175.2C145.4 175.2 146.5 175.2 148.9 175.2C151.2 175.2 152.4 172.0 154.7 169.4C157.1 166.7 158.2 163.3 160.6 161.9C162.9 160.5 164.1 160.5 166.4 160.5C167.8 160.5 168.5 164.3 169.9 167.0C171.1 169.3 171.7 172.9 172.9 172.9C175.4 172.9 176.7 168.9 179.2 168.9C180.4 168.9 181.1 174.4 182.3 178.7C183.4 182.6 184.0 189.2 185.1 189.2C186.5 189.2 187.2 180.7 188.6 176.4C189.8 172.7 190.4 169.4 191.6 169.4C194.6 169.4 196.1 173.1 199.1 173.6C201.9 174.1 203.3 174.1 206.1 174.1C208.4 174.1 209.6 173.6 211.9 171.7C214.3 169.8 215.4 164.7 217.8 164.7C219.6 164.7 220.6 164.7 222.4 165.2C224.8 165.7 225.9 167.8 228.3 167.8C230.8 167.8 232.1 167.1 234.6 167.1C235.8 167.1 236.4 170.4 237.6 174.1C239.0 178.4 239.7 183.2 241.1 186.9C243.2 192.4 244.2 196.9 246.3 196.9C248.9 196.9 250.2 185.7 252.8 185.7C254.2 185.7 254.9 187.8 256.3 190.4C257.7 193.0 258.4 196.8 259.8 198.6C262.1 201.5 263.3 202.1 265.6 202.1C267.0 202.1 267.7 199.5 269.1 195.1C271.0 189.2 271.9 183.1 273.8 176.4C275.5 170.5 276.3 163.6 278.0 163.6C279.6 163.6 280.4 169.6 282.0 174.1C283.9 179.4 284.8 183.8 286.7 188.1C288.3 191.7 289.0 193.9 290.6 193.9C292.8 193.9 293.8 190.7 296.0 186.9C298.6 182.3 299.9 172.9 302.5 172.9C303.3 172.9 303.8 174.9 304.6 183.4C305.4 191.1 305.7 202.7 306.5 213.4C307.3 224.1 307.6 230.7 308.4 236.7C309.5 245.6 310.1 247.3 311.2 250.7C313.0 256.2 314.0 256.6 315.8 258.9C318.2 261.8 319.3 262.4 321.7 263.6C323.8 264.7 324.9 263.6 327.0 264.7C328.3 265.8 329.0 268.9 330.3 271.7C331.5 274.3 332.2 278.3 333.4 278.3C334.8 278.3 335.5 273.9 336.9 270.6C338.0 268.0 338.6 263.6 339.7 263.6C340.9 263.6 341.5 271.2 342.7 276.4C344.1 282.4 344.8 291.6 346.2 291.6C347.6 291.6 348.3 285.1 349.7 281.1C352.0 274.4 353.2 270.2 355.5 264.7C358.3 258.1 359.7 255.4 362.5 250.7C365.8 245.2 367.4 239.0 370.7 239.0C371.9 239.0 372.5 245.7 373.7 250.7C375.0 256.2 375.7 265.2 377.0 265.2C379.2 265.2 380.2 264.6 382.4 261.2C385.7 256.0 387.3 251.9 390.6 243.7C393.8 235.6 395.5 230.1 398.7 220.4C401.1 213.3 402.2 208.3 404.6 201.7C405.8 198.4 406.4 195.6 407.6 195.6C410.1 195.6 411.4 202.0 413.9 202.0C420.5 202.0 423.7 200.2 430.3 198.6C434.0 197.7 435.9 195.8 439.6 195.8C441.5 195.8 442.4 199.5 444.3 202.1C446.6 205.3 447.8 210.3 450.1 210.3C452.5 210.3 453.6 209.6 456.0 209.6C458.8 209.6 460.2 211.4 463.0 211.4C465.8 211.4 467.2 205.4 470.0 202.1C472.3 199.4 473.5 196.5 475.8 196.5C478.2 196.5 479.3 204.4 481.7 207.6C484.0 210.7 485.2 209.6 487.5 212.2C490.3 215.3 491.7 218.4 494.5 222.0C496.9 225.0 498.0 225.8 500.4 228.6C503.2 231.9 504.6 236.0 507.4 237.2C509.7 238.4 510.9 237.2 513.2 238.4C514.6 239.6 515.3 243.9 516.7 246.5C517.8 248.6 518.4 250.1 519.5 250.1C522.1 250.1 523.4 248.3 526.0 245.4C528.8 242.2 530.2 239.9 533.0 234.9C536.3 229.1 537.9 224.8 541.2 218.5C544.0 213.1 545.4 209.8 548.2 205.7C549.6 203.7 550.3 203.3 551.7 203.3C556.4 203.3 558.7 203.3 563.4 205.2C565.3 207.1 566.2 212.3 568.1 216.2C569.9 220.0 570.9 224.0 572.7 224.4C574.1 224.8 574.8 224.8 576.2 224.8C578.6 224.8 579.7 217.3 582.1 213.9C584.4 210.6 585.6 208.0 587.9 208.0C590.3 208.0 591.4 208.0 593.8 208.5C597.5 209.0 599.4 211.3 603.1 212.7C606.4 213.9 608.0 215.0 611.3 215.0C614.1 215.0 615.5 210.4 618.3 208.5C620.8 206.8 622.1 206.2 624.6 206.2C626.8 206.2 627.8 216.9 630.0 216.9C632.8 216.9 634.2 214.6 637.0 214.6C638.8 214.6 639.8 214.6 641.6 218.5C643.0 222.4 643.7 226.8 645.1 233.7C646.1 238.5 646.5 243.9 647.5 247.7C648.4 251.4 648.9 252.4 649.8 252.4C651.2 252.4 651.9 245.2 653.3 241.9C654.7 238.6 655.4 237.4 656.8 236.0C659.6 233.2 661.0 233.3 663.8 231.4C665.4 230.3 666.2 228.6 667.8 228.6C670.4 228.6 671.7 234.9 674.3 234.9C676.7 234.9 677.8 233.7 680.2 231.8C683.0 229.5 684.4 226.9 687.2 224.4C689.5 222.3 690.7 220.2 693.0 220.2C694.9 220.2 695.8 229.1 697.7 231.4C700.5 233.7 701.9 231.4 704.7 233.7C707.5 236.0 708.9 240.2 711.7 243.0C714.0 245.3 715.2 243.0 717.5 246.5C718.9 250.0 719.6 253.2 721.0 257.1C722.0 259.8 722.4 262.9 723.4 262.9C725.7 262.9 726.9 257.5 729.2 257.5C732.0 257.5 733.4 259.4 736.2 259.4C738.5 259.4 739.7 258.8 742.0 257.1C744.8 255.1 746.2 250.1 749.0 250.1C752.3 250.1 753.9 251.9 757.2 251.9C761.0 251.9 762.8 242.6 766.6 242.6C768.0 242.6 768.7 246.8 770.1 249.6C773.8 252.4 775.7 252.4 779.4 252.4C781.7 252.4 782.9 250.4 785.2 248.9C787.8 247.2 789.2 244.2 791.8 244.2C794.3 244.2 795.6 248.5 798.1 250.5C800.9 252.7 802.3 254.7 805.1 254.7C807.0 254.7 807.9 251.7 809.8 247.7C811.2 244.7 811.9 240.9 813.3 237.2C814.7 233.5 815.4 229.0 816.8 229.0C818.6 229.0 819.6 233.6 821.4 237.2C823.8 241.8 824.9 249.6 827.3 249.6C830.1 249.6 831.5 244.9 834.3 244.2C836.3 243.5 837.4 244.2 839.4 243.5C840.2 242.8 840.5 238.0 841.3 235.6C843.2 233.2 844.1 233.2 846.0 233.2C848.3 233.2 849.5 235.2 851.8 238.4C855.1 242.9 856.7 251.8 860.0 252.4C862.8 253.0 864.2 252.4 867.0 253.0C869.3 253.6 870.5 256.9 872.8 257.3C875.2 257.7 876.3 257.3 878.7 257.7C881.0 258.1 882.2 263.6 884.5 263.6C888.7 263.6 890.8 262.4 895.0 262.4C898.3 262.4 899.9 266.8 903.2 268.9C907.9 271.9 910.2 275.2 914.9 275.2C917.7 275.2 919.1 271.7 921.9 271.7C924.2 271.7 925.4 272.9 927.7 272.9C930.5 272.9 931.9 263.7 934.7 260.1C939.4 256.5 941.7 256.5 946.4 256.5C949.2 256.5 950.6 258.2 953.4 258.2C955.7 258.2 956.9 246.0 959.2 246.0C962.5 246.0 964.1 247.7 967.4 250.7C970.2 253.3 971.6 256.8 974.4 260.1C977.2 263.4 978.6 263.7 981.4 267.1C984.2 270.5 985.6 276.2 988.4 276.9C990.3 277.6 991.2 277.6 993.1 277.6C996.8 277.6 998.7 274.5 1002.4 274.5C1005.2 274.5 1006.6 275.2 1009.4 275.2C1011.8 275.2 1012.9 274.0 1015.3 270.6C1017.2 267.9 1018.1 260.1 1020.0 260.1C1022.3 260.1 1023.5 269.4 1025.8 269.4C1028.6 269.4 1030.0 260.1 1032.8 260.1C1034.8 260.1 1035.9 271.7 1037.9 271.7C1041.0 271.7 1042.5 258.9 1045.6 258.9C1048.0 258.9 1049.1 263.7 1051.5 267.1C1054.3 271.2 1055.7 274.1 1058.5 277.6C1061.3 281.1 1062.7 281.3 1065.5 284.6C1067.8 287.3 1069.0 288.8 1071.3 292.7C1073.2 295.8 1074.1 299.0 1076.0 302.1C1077.9 305.2 1078.8 308.3 1080.7 308.3C1082.5 308.3 1083.5 303.6 1085.3 300.9C1087.7 297.4 1088.8 295.6 1091.2 292.7C1094.9 288.1 1096.8 282.2 1100.5 282.2C1103.3 282.2 1104.7 284.6 1107.5 284.6C1111.3 284.6 1113.1 282.9 1116.9 279.9C1119.7 277.7 1121.1 277.1 1123.9 271.7C1126.7 266.3 1128.1 253.0 1130.9 253.0C1133.7 253.0 1135.1 254.2 1137.9 254.2C1139.3 254.2 1140.0 246.1 1141.4 242.5C1143.2 237.7 1144.2 234.4 1146.0 233.2C1149.8 232.0 1151.6 233.2 1155.4 232.0C1157.7 230.8 1158.9 225.1 1161.2 221.5C1164.0 217.2 1165.4 215.4 1168.2 212.2C1170.6 209.5 1171.7 206.8 1174.1 206.8C1176.4 206.8 1177.6 209.6 1179.9 212.2C1182.2 214.8 1183.4 219.9 1185.7 219.9C1189.0 219.9 1190.6 214.5 1193.9 214.5C1197.7 214.5 1199.5 214.5 1203.3 214.5C1205.1 214.5 1206.1 218.3 1207.9 221.5C1209.8 224.8 1210.7 227.8 1212.6 230.9C1214.9 234.8 1216.1 235.5 1218.4 239.0C1220.8 242.5 1221.9 248.4 1224.3 248.4C1226.1 248.4 1227.1 241.4 1228.9 241.4C1231.7 241.4 1233.2 241.4 1236.0 241.8C1238.3 242.2 1239.5 249.4 1241.8 252.6C1245.1 257.1 1246.7 257.9 1250.0 261.2C1253.7 264.9 1255.6 265.4 1259.3 270.1C1262.1 273.6 1263.5 276.6 1266.3 281.7C1268.7 286.0 1269.8 291.1 1272.2 293.4C1274.5 295.7 1275.7 293.6 1278.0 295.7C1280.8 298.3 1282.2 301.0 1285.0 305.1C1287.4 308.5 1288.5 312.2 1290.9 314.4C1294.1 317.4 1295.8 316.3 1299.0 317.9C1301.1 318.9 1302.1 321.0 1304.2 321.0C1306.8 321.0 1308.1 313.0 1310.7 311.6C1313.5 310.2 1314.9 311.6 1317.7 310.2C1319.6 308.8 1320.5 302.6 1322.4 299.2C1325.2 294.2 1326.6 289.7 1329.4 289.2C1331.7 288.7 1332.9 289.2 1335.2 288.7C1337.1 288.2 1338.0 282.2 1339.9 279.4C1342.7 275.2 1344.1 271.2 1346.9 271.2C1349.2 271.2 1350.4 283.6 1352.7 283.6C1355.1 283.6 1356.2 277.2 1358.6 273.6C1361.9 268.6 1363.5 265.7 1366.8 261.9C1369.6 258.7 1371.0 258.0 1373.8 256.0C1375.6 254.7 1376.6 253.7 1378.4 253.7C1380.8 253.7 1381.9 261.6 1384.3 266.5C1386.4 270.9 1387.5 277.1 1389.6 277.1C1392.1 277.1 1393.4 264.9 1395.9 264.9C1398.3 264.9 1399.4 272.1 1401.8 277.1C1404.1 282.1 1405.3 289.9 1407.6 289.9C1410.4 289.9 1411.8 289.9 1414.6 288.7C1417.0 287.5 1418.1 276.6 1420.5 276.6C1423.3 276.6 1424.7 288.7 1427.5 288.7C1429.8 288.7 1431.0 288.7 1433.3 287.6C1435.6 286.5 1436.8 280.3 1439.1 277.1C1441.9 273.1 1443.4 272.0 1446.2 269.6C1449.0 267.3 1450.4 265.4 1453.2 265.4C1455.0 265.4 1456.0 271.2 1457.8 271.2C1460.2 271.2 1461.3 261.2 1463.7 261.2C1466.5 261.2 1467.9 264.9 1470.7 264.9C1473.5 264.9 1474.9 260.3 1477.7 257.9C1479.8 256.1 1480.9 254.2 1483.0 254.2C1484.6 254.2 1485.4 262.5 1487.0 265.4C1489.4 269.7 1490.5 270.7 1492.9 272.4C1495.7 274.4 1497.1 272.4 1499.9 274.7C1502.7 277.0 1504.1 283.2 1506.9 287.6C1509.7 292.0 1511.1 292.7 1513.9 296.9C1516.7 301.1 1518.1 303.7 1520.9 308.6C1523.7 313.5 1525.1 315.9 1527.9 321.4C1529.6 324.7 1530.4 330.8 1532.1 330.8C1533.0 330.8 1533.4 327.4 1534.3 326.0C1536.0 323.3 1536.9 320.5 1538.6 320.5C1540.7 320.5 1541.7 323.4 1543.8 326.0C1546.2 329.0 1547.5 330.5 1549.9 334.6C1551.6 337.5 1552.5 340.5 1554.2 343.3C1555.2 345.0 1555.8 345.9 1556.8 345.9C1558.9 345.9 1559.9 339.6 1562.0 336.4C1564.0 333.3 1565.1 330.3 1567.1 330.3C1569.2 330.3 1570.2 330.5 1572.3 331.2C1574.4 331.9 1575.4 332.5 1577.5 333.8C1579.2 334.9 1580.1 335.1 1581.8 337.2C1583.5 339.3 1584.4 342.0 1586.1 344.1C1587.5 345.8 1588.2 346.7 1589.6 346.7C1591.7 346.7 1592.7 338.1 1594.8 338.1C1596.5 338.1 1597.4 342.5 1599.1 344.1C1600.8 345.7 1601.7 345.9 1603.4 345.9C1604.8 345.9 1605.5 343.3 1606.9 343.3C1608.6 343.3 1609.5 347.6 1611.2 347.6C1612.9 347.6 1613.8 347.6 1615.5 345.9C1617.2 344.2 1618.1 336.8 1619.8 332.9C1621.8 328.5 1622.7 325.1 1624.7 325.1C1626.2 325.1 1626.9 330.4 1628.4 332.9C1630.2 335.9 1631.0 337.5 1632.8 338.9C1634.8 340.6 1635.9 340.7 1637.9 340.7C1639.7 340.7 1640.5 338.9 1642.3 338.9C1644.0 338.9 1644.9 342.7 1646.6 344.1C1648.3 345.5 1649.2 345.9 1650.9 345.9C1652.3 345.9 1653.0 340.4 1654.4 336.4C1655.8 332.5 1656.4 329.1 1657.8 326.0C1659.2 322.8 1659.9 320.8 1661.3 320.8C1662.7 320.8 1663.3 323.8 1664.7 326.0C1665.7 327.6 1666.3 330.3 1667.3 330.3C1668.7 330.3 1669.4 324.2 1670.8 320.8C1671.8 318.3 1672.4 315.6 1673.4 315.6C1674.8 315.6 1675.4 318.4 1676.8 320.8C1678.0 322.9 1679.7 326.9 1679.7 326.9" fill="none" stroke="#90ed7d" stroke-width="5.1" stroke-linejoin="round" stroke-linecap="round"/>
<path d="M99.3 299.7C99.3 299.7 100.3 291.3 101.0 288.1C102.4 281.5 103.1 275.9 104.5 275.2C107.3 274.5 108.7 274.5 111.5 274.5C113.7 274.5 114.7 278.3 116.9 278.3C119.4 278.3 120.7 274.5 123.2 274.5C125.5 274.5 126.7 277.1 129.0 279.9C131.8 283.3 133.2 289.9 136.0 289.9C139.8 289.9 141.6 287.1 145.4 284.6C149.0 282.2 150.7 277.6 154.3 277.6C156.8 277.6 158.1 281.7 160.6 284.6C163.4 287.8 164.8 289.2 167.6 292.7C169.6 295.2 170.7 299.7 172.7 299.7C175.3 299.7 176.6 289.9 179.2 289.9C181.6 289.9 182.7 291.6 185.1 291.6C186.2 291.6 186.8 285.8 187.9 283.4C189.4 280.2 190.1 277.6 191.6 277.6C193.2 277.6 194.0 280.0 195.6 283.4C197.9 288.4 199.1 292.9 201.4 298.6C203.3 303.2 204.2 306.3 206.1 309.1C207.8 311.6 208.6 311.9 210.3 311.9C211.9 311.9 212.7 305.6 214.3 300.9C216.1 295.6 217.1 291.4 218.9 286.9C220.1 283.9 220.8 282.2 222.0 282.2C223.3 282.2 223.9 285.5 225.2 288.1C226.4 290.6 227.1 295.1 228.3 295.1C229.7 295.1 230.4 287.4 231.8 283.4C232.7 280.8 233.2 278.7 234.1 278.7C236.9 278.7 238.3 281.1 241.1 281.1C243.2 281.1 244.2 267.1 246.3 267.1C248.9 267.1 250.2 269.4 252.8 269.4C255.1 269.4 256.3 257.3 258.6 257.3C260.0 257.3 260.7 261.3 262.1 264.7C263.5 268.1 264.2 274.1 265.6 274.1C268.4 274.1 269.8 274.1 272.6 271.7C274.7 269.3 275.7 258.2 277.8 258.2C279.0 258.2 279.6 261.3 280.8 264.7C282.2 268.6 282.9 272.9 284.3 276.4C286.7 279.9 287.8 276.4 290.2 279.9C291.6 283.4 292.3 287.1 293.7 290.4C295.1 293.7 295.8 296.2 297.2 296.2C298.3 296.2 298.9 287.6 300.0 283.4C301.0 279.7 301.5 276.4 302.5 276.4C303.6 276.4 304.2 291.1 305.3 299.7C306.5 309.2 307.2 320.6 308.4 321.7C310.0 322.8 310.7 322.8 312.3 322.8C314.7 322.8 315.8 319.4 318.2 314.2C320.0 310.2 321.0 305.9 322.8 299.7C324.5 294.0 325.3 284.6 327.0 284.6C329.1 284.6 330.1 289.9 332.2 289.9C335.9 289.9 337.8 288.1 341.5 288.1C343.4 288.1 344.3 293.8 346.2 299.7C347.1 302.6 347.6 304.8 348.5 310.0C349.5 315.4 349.9 325.1 350.9 326.3C353.7 327.5 355.1 326.3 357.9 327.5C360.2 328.7 361.4 334.5 363.7 334.5C366.3 334.5 367.6 332.2 370.2 332.2C371.8 332.2 372.6 339.1 374.2 342.7C376.1 346.9 377.0 348.4 378.9 351.6C383.1 354.8 385.2 354.8 389.4 354.8C390.3 354.8 390.8 347.5 391.7 345.0C393.1 341.2 393.8 339.2 395.2 339.2C397.6 339.2 398.7 345.5 401.1 345.5C403.4 345.5 404.6 339.9 406.9 336.9C409.7 333.2 411.1 328.7 413.9 328.7C416.3 328.7 417.4 331.5 419.8 333.4C422.6 335.7 424.0 339.2 426.8 339.2C429.1 339.2 430.3 333.4 432.6 333.4C436.3 333.4 438.2 335.5 441.9 336.9C445.7 338.3 447.5 340.4 451.3 340.4C454.1 340.4 455.5 340.4 458.3 340.4C460.6 340.4 461.8 341.8 464.1 345.0C466.0 347.6 466.9 354.8 468.8 354.8C470.9 354.8 471.9 353.4 474.0 351.0C475.2 349.6 475.8 346.7 477.0 345.5C480.7 341.7 482.6 338.5 486.3 338.5C489.6 338.5 491.2 338.5 494.5 338.5C496.9 338.5 498.0 346.2 500.4 346.2C503.2 346.2 504.6 346.2 507.4 346.2C509.7 346.2 510.9 343.7 513.2 342.0C515.5 340.3 516.7 337.8 519.0 337.8C521.8 337.8 523.2 341.7 526.0 344.4C528.4 346.7 529.5 350.2 531.9 350.2C533.3 350.2 534.0 342.5 535.4 339.7C536.5 337.4 537.1 337.4 538.2 337.4C540.8 337.4 542.1 344.0 544.7 346.7C547.5 349.6 548.9 349.7 551.7 351.4C555.0 353.4 556.6 352.7 559.9 356.0C562.2 358.3 563.4 361.5 565.7 365.4C568.1 369.4 569.2 372.7 571.6 375.9C573.0 377.8 573.7 378.2 575.1 378.2C577.0 378.2 577.9 373.6 579.8 371.2C582.6 367.6 584.0 366.0 586.8 363.0C590.5 359.0 592.4 357.7 596.1 353.7C598.9 350.7 600.3 347.8 603.1 345.5C605.9 343.2 607.3 342.0 610.1 342.0C612.9 342.0 614.3 342.0 617.1 343.2C619.9 344.4 621.3 350.9 624.1 350.9C626.5 350.9 627.6 345.9 630.0 343.9C632.8 341.6 634.2 340.2 637.0 340.2C639.3 340.2 640.5 345.7 642.8 347.9C645.1 350.1 646.3 351.4 648.6 351.4C651.0 351.4 652.1 350.2 654.5 350.2C657.3 350.2 658.7 357.2 661.5 357.2C664.3 357.2 665.7 350.0 668.5 346.7C671.3 343.4 672.7 343.2 675.5 340.9C677.1 339.6 677.9 337.8 679.5 337.8C682.6 337.8 684.1 343.3 687.2 344.4C690.9 345.5 692.8 344.4 696.5 345.5C700.2 346.6 702.1 351.8 705.8 352.5C708.6 353.2 710.0 352.5 712.8 353.2C715.2 353.9 716.3 353.9 718.7 356.0C720.6 357.7 721.5 362.6 723.4 362.6C725.7 362.6 726.9 355.6 729.2 355.6C732.0 355.6 733.4 358.8 736.2 358.8C739.9 358.8 741.8 358.0 745.5 356.0C748.3 354.5 749.7 352.3 752.5 350.2C755.3 348.1 756.8 345.5 759.6 345.5C762.4 345.5 763.8 345.5 766.6 345.5C768.4 345.5 769.4 356.0 771.2 356.0C775.0 356.0 776.8 354.2 780.6 354.2C782.9 354.2 784.1 354.2 786.4 354.9C790.6 355.6 792.7 359.6 796.9 363.0C799.7 365.2 801.1 366.5 803.9 368.9C806.7 371.3 808.1 375.2 810.9 375.2C812.9 375.2 814.0 370.7 816.0 368.3C818.2 365.7 819.3 364.1 821.5 362.8C824.3 361.5 825.6 362.8 828.4 361.5C830.3 360.2 831.2 355.6 833.1 354.9C835.4 354.2 836.6 354.2 838.9 354.2C840.2 354.2 840.9 364.0 842.2 367.0C843.9 370.9 844.7 371.5 846.4 371.5C849.2 371.5 850.5 368.2 853.3 366.5C856.0 364.8 857.3 363.0 860.0 363.0C861.9 363.0 862.8 374.7 864.7 374.7C867.9 374.7 869.6 374.7 872.8 374.7C877.5 374.7 879.8 379.4 884.5 379.4C887.3 379.4 888.7 379.2 891.5 375.9C893.9 373.1 895.0 368.4 897.4 364.2C899.7 360.0 900.9 354.9 903.2 354.9C905.5 354.9 906.7 358.0 909.0 359.5C911.8 361.3 913.2 363.0 916.0 363.0C918.4 363.0 919.5 360.7 921.9 360.7C924.2 360.7 925.4 363.0 927.7 363.0C930.5 363.0 931.9 361.3 934.7 359.5C936.6 358.3 937.5 355.6 939.4 355.6C941.7 355.6 942.9 360.8 945.2 361.9C948.0 363.0 949.4 361.9 952.2 363.0C955.0 364.1 956.4 367.7 959.2 367.7C961.6 367.7 962.7 364.3 965.1 361.9C967.4 359.5 968.6 355.6 970.9 355.6C973.3 355.6 974.4 358.8 976.8 360.7C979.6 362.9 981.0 365.0 983.8 365.8C987.0 366.6 988.7 366.6 991.9 366.6C993.3 366.6 994.0 359.5 995.4 359.5C997.8 359.5 998.9 366.5 1001.3 367.7C1004.5 368.9 1006.2 367.8 1009.4 368.9C1014.1 370.5 1016.4 370.2 1021.1 374.3C1023.9 376.7 1025.3 381.5 1028.1 385.2C1031.9 390.1 1033.7 392.3 1037.5 395.7C1040.3 398.2 1041.7 398.7 1044.5 399.9C1047.3 401.1 1048.7 401.6 1051.5 401.6C1053.8 401.6 1055.0 396.2 1057.3 396.2C1059.7 396.2 1060.8 403.2 1063.2 407.4C1065.5 411.5 1066.7 414.2 1069.0 416.8C1070.9 418.9 1071.8 419.1 1073.7 419.1C1076.5 419.1 1077.9 418.2 1080.7 414.4C1083.0 411.2 1084.2 402.8 1086.5 401.6C1089.3 400.4 1090.7 401.6 1093.5 400.4C1096.3 399.2 1097.7 393.9 1100.5 393.9C1103.3 393.9 1104.7 395.3 1107.5 395.3C1110.8 395.3 1112.4 395.1 1115.7 393.4C1117.6 392.4 1118.5 391.5 1120.4 388.7C1122.2 385.9 1123.2 379.4 1125.0 379.4C1127.4 379.4 1128.5 380.6 1130.9 380.6C1132.7 380.6 1133.7 374.0 1135.5 371.2C1136.9 369.1 1137.6 368.2 1139.0 368.2C1140.9 368.2 1141.8 375.1 1143.7 379.4C1146.1 384.7 1147.2 386.9 1149.6 392.2C1151.9 397.4 1153.1 405.5 1155.4 405.5C1157.7 405.5 1158.9 400.4 1161.2 400.4C1164.0 400.4 1165.4 402.7 1168.2 402.7C1170.1 402.7 1171.0 393.3 1172.9 392.2C1176.6 391.1 1178.5 391.1 1182.2 391.1C1185.0 391.1 1186.5 393.4 1189.3 395.7C1191.6 397.6 1192.8 401.6 1195.1 401.6C1197.0 401.6 1197.9 394.6 1199.8 394.6C1202.6 394.6 1204.0 399.2 1206.8 399.2C1209.1 399.2 1210.3 398.1 1212.6 398.1C1214.9 398.1 1216.1 404.6 1218.4 404.6C1220.8 404.6 1221.9 394.6 1224.3 394.6C1227.1 394.6 1228.5 401.8 1231.3 405.1C1233.6 407.8 1234.8 409.7 1237.1 409.7C1239.5 409.7 1240.6 409.7 1243.0 408.6C1245.0 407.5 1246.1 400.0 1248.1 399.2C1248.9 398.4 1249.2 398.4 1250.0 398.4C1252.3 398.4 1253.5 405.9 1255.8 408.9C1258.2 411.9 1259.3 411.4 1261.7 413.5C1264.0 415.6 1265.2 419.4 1267.5 419.4C1269.3 419.4 1270.3 419.3 1272.1 417.0C1274.5 414.0 1275.6 406.1 1278.0 406.1C1281.7 406.1 1283.6 407.7 1287.3 407.7C1291.5 407.7 1293.6 407.7 1297.8 407.7C1300.6 407.7 1302.0 413.5 1304.8 413.5C1307.3 413.5 1308.6 410.7 1311.1 410.7C1313.5 410.7 1314.7 417.7 1317.1 417.7C1319.2 417.7 1320.2 410.0 1322.3 407.7C1325.1 405.4 1326.5 407.7 1329.3 405.4C1331.6 403.1 1332.8 399.8 1335.1 396.1C1337.4 392.4 1338.6 389.5 1340.9 386.7C1343.7 383.4 1345.1 383.9 1347.9 380.9C1350.2 378.4 1351.4 372.8 1353.7 372.8C1355.6 372.8 1356.5 379.1 1358.4 380.9C1361.2 383.6 1362.6 383.4 1365.4 383.9C1368.6 384.4 1370.3 384.4 1373.5 384.4C1375.9 384.4 1377.0 383.1 1379.4 380.9C1381.5 378.9 1382.6 373.9 1384.7 373.9C1386.8 373.9 1387.8 382.1 1389.9 382.1C1392.2 382.1 1393.4 375.1 1395.7 375.1C1398.5 375.1 1399.9 384.4 1402.7 384.4C1405.5 384.4 1406.9 378.0 1409.7 373.9C1411.8 370.8 1412.9 366.5 1415.0 366.5C1417.5 366.5 1418.8 371.8 1421.3 375.1C1424.6 379.4 1426.2 381.1 1429.5 385.6C1432.3 389.5 1433.7 392.5 1436.5 396.1C1440.2 400.9 1442.1 406.6 1445.8 406.6C1448.1 406.6 1449.3 399.6 1451.6 399.6C1454.0 399.6 1455.1 406.6 1457.5 406.6C1459.8 406.6 1461.0 400.0 1463.3 400.0C1465.6 400.0 1466.8 407.7 1469.1 407.7C1471.0 407.7 1471.9 403.1 1473.8 400.7C1476.6 397.1 1478.0 392.6 1480.8 392.6C1484.0 392.6 1485.7 392.6 1488.9 392.6C1491.3 392.6 1492.4 398.6 1494.8 400.7C1497.1 402.8 1498.3 403.1 1500.6 403.1C1502.9 403.1 1504.1 401.7 1506.4 399.6C1509.2 397.0 1510.6 393.7 1513.4 391.4C1516.2 389.1 1517.6 387.9 1520.4 387.9C1522.7 387.9 1523.9 390.2 1526.2 390.2C1527.7 390.2 1528.5 383.5 1530.0 383.5C1531.7 383.5 1532.6 383.5 1534.3 384.4C1535.7 385.3 1536.4 389.6 1537.8 389.6C1539.9 389.6 1540.9 383.5 1543.0 383.5C1545.4 383.5 1546.6 387.2 1549.0 389.6C1551.8 392.4 1553.1 396.5 1555.9 396.5C1558.3 396.5 1559.6 392.0 1562.0 388.7C1564.4 385.4 1565.6 380.1 1568.0 380.1C1570.8 380.1 1572.1 385.3 1574.9 385.3C1577.3 385.3 1578.5 377.5 1580.9 377.5C1583.3 377.5 1584.6 383.2 1587.0 385.3C1589.8 387.7 1591.1 388.7 1593.9 388.7C1596.0 388.7 1597.0 387.8 1599.1 385.3C1601.9 381.9 1603.2 374.0 1606.0 374.0C1608.4 374.0 1609.6 380.1 1612.0 380.1C1614.4 380.1 1615.7 374.0 1618.1 374.0C1620.5 374.0 1621.7 377.5 1624.1 377.5C1626.5 377.5 1627.8 369.7 1630.2 369.7C1633.0 369.7 1634.3 374.0 1637.1 374.0C1639.9 374.0 1641.2 369.0 1644.0 365.4C1646.8 361.8 1648.1 359.0 1650.9 355.9C1653.0 353.5 1654.0 352.7 1656.1 351.6C1658.2 350.5 1659.2 350.4 1661.3 350.4C1663.7 350.4 1664.9 355.6 1667.3 355.6C1669.7 355.6 1671.0 354.4 1673.4 352.5C1674.8 351.4 1675.4 350.3 1676.8 348.1C1678.0 346.2 1679.7 342.1 1679.7 342.1" fill="none" stroke="#f7a35c" stroke-width="5.1" stroke-linejoin="round" stroke-linecap="round"/>
<path d="M99.3 473.2C99.3 473.2 102.4 472.2 104.5 472.2C108.7 472.2 110.8 472.7 115.0 472.7C118.2 472.7 119.7 472.7 122.9 472.2C125.3 471.7 126.6 468.3 129.0 468.3C131.8 468.3 133.2 470.4 136.0 470.4C139.5 470.4 141.3 470.3 144.8 469.7C148.6 469.1 150.6 469.1 154.4 467.4C156.2 466.6 157.0 463.4 158.8 463.4C162.3 463.4 164.1 463.4 167.6 463.4C170.4 463.4 171.8 462.5 174.6 461.8C176.5 461.3 177.5 461.2 179.4 460.5C182.3 459.5 183.7 458.3 186.6 457.6C190.8 456.6 192.8 457.6 197.0 456.4C199.1 455.2 200.1 453.4 202.2 451.7C203.9 450.3 204.8 449.0 206.5 448.6C208.4 448.2 209.4 448.2 211.3 448.2C213.1 448.2 213.9 451.5 215.7 452.2C218.2 452.9 219.4 452.9 221.9 452.9C224.0 452.9 225.0 449.9 227.1 449.9C228.5 449.9 229.2 449.9 230.6 449.9C232.4 449.9 233.2 454.3 235.0 454.3C238.8 454.3 240.8 453.9 244.6 453.4C248.8 452.9 250.9 451.7 255.1 451.7C258.6 451.7 260.4 452.2 263.9 452.5C267.4 452.8 269.1 453.4 272.6 453.4C276.8 453.4 279.0 453.3 283.2 452.5C286.0 451.9 287.4 450.4 290.2 449.9C293.0 449.4 294.4 449.4 297.2 449.4C301.4 449.4 303.5 451.1 307.7 452.5C311.2 453.7 312.9 455.1 316.4 456.0C321.3 456.9 323.8 456.9 328.7 456.9C333.6 456.9 336.1 456.9 341.0 456.9C343.8 456.9 345.2 456.9 348.0 456.0C350.8 455.1 352.2 452.9 355.0 451.7C358.5 450.1 360.2 450.6 363.7 449.0C366.5 447.8 367.9 446.2 370.7 444.7C373.2 443.4 374.5 442.0 377.0 442.0C381.2 442.0 383.3 442.4 387.5 442.4C390.3 442.4 391.7 439.6 394.5 437.7C396.9 436.1 398.2 433.6 400.6 433.6C403.1 433.6 404.3 436.8 406.8 436.8C409.6 436.8 411.0 433.6 413.8 433.6C418.7 433.6 421.1 435.9 426.0 435.9C428.1 435.9 429.2 435.6 431.3 434.2C434.1 432.4 435.5 428.0 438.3 428.0C439.3 428.0 439.9 428.9 440.9 430.6C442.7 433.5 443.5 439.4 445.3 439.4C447.4 439.4 448.5 428.0 450.6 428.0C451.6 428.0 452.2 429.1 453.2 430.6C454.6 432.6 455.3 436.8 456.7 436.8C459.1 436.8 460.4 436.3 462.8 435.9C465.2 435.5 466.5 435.0 468.9 435.0C470.0 435.0 470.5 436.2 471.6 437.7C473.4 440.1 474.2 444.7 476.0 444.7C478.4 444.7 479.7 442.1 482.1 441.2C484.9 440.3 486.3 440.7 489.1 440.3C491.9 439.9 493.3 440.3 496.1 439.4C498.9 438.5 500.3 437.4 503.1 435.9C504.9 435.0 505.7 433.3 507.5 433.3C509.3 433.3 510.1 436.8 511.9 436.8C514.0 436.8 515.0 435.8 517.1 435.0C519.9 434.0 521.3 433.1 524.1 432.4C526.9 431.7 528.3 431.5 531.1 431.5C533.6 431.5 534.8 433.3 537.3 433.3C539.7 433.3 541.0 431.0 543.4 429.8C545.8 428.6 547.1 427.1 549.5 427.1C550.9 427.1 551.6 428.7 553.0 429.8C554.4 430.9 555.1 432.4 556.5 432.4C559.0 432.4 560.2 431.4 562.7 430.6C565.5 429.7 566.9 428.7 569.7 428.0C572.1 427.3 573.4 428.0 575.8 427.1C576.8 426.2 577.4 423.9 578.4 421.9C579.4 419.9 580.0 417.2 581.0 417.2C582.8 417.2 583.6 418.8 585.4 419.6C588.2 420.9 589.6 421.6 592.4 422.4C597.3 423.9 599.8 424.3 604.7 425.4C609.6 426.5 612.0 426.0 616.9 427.7C619.7 428.6 621.1 431.9 623.9 431.9C625.3 431.9 626.0 428.8 627.4 427.1C628.7 425.5 629.3 423.6 630.6 423.6C631.8 423.6 632.4 425.2 633.6 426.3C635.4 428.0 636.2 430.6 638.0 430.6C640.1 430.6 641.1 428.8 643.2 427.1C645.3 425.3 646.4 425.5 648.5 421.9C649.9 419.5 650.6 415.6 652.0 412.3C653.0 409.8 653.6 407.4 654.6 407.4C656.4 407.4 657.2 408.4 659.0 410.5C661.5 413.5 662.8 417.3 665.3 420.1C668.4 423.6 670.0 426.3 673.1 426.3C676.3 426.3 677.8 423.2 681.0 421.9C683.8 420.7 685.2 420.1 688.0 420.1C691.5 420.1 693.3 420.1 696.8 421.0C700.3 421.9 702.0 425.4 705.5 425.4C708.0 425.4 709.2 424.5 711.7 421.0C714.5 417.1 715.9 412.0 718.7 407.0C720.4 403.9 721.3 400.9 723.0 400.9C725.5 400.9 726.7 404.1 729.2 407.0C732.4 410.7 733.9 413.3 737.1 417.5C739.2 420.3 740.2 424.5 742.3 424.5C745.1 424.5 746.5 423.3 749.3 421.9C751.7 420.7 752.8 420.2 755.2 418.0C758.0 415.4 759.3 412.8 762.1 409.7C763.7 407.9 764.6 405.6 766.2 405.6C767.6 405.6 768.3 414.0 769.7 414.6C772.2 415.2 773.4 415.2 775.9 415.2C779.2 415.2 780.9 415.2 784.2 415.2C786.4 415.2 787.5 411.5 789.7 407.7C791.7 404.3 792.6 400.6 794.6 397.3C796.0 395.0 796.6 393.8 798.0 393.8C799.4 393.8 800.1 398.0 801.5 398.7C802.9 399.4 803.5 399.4 804.9 399.4C806.6 399.4 807.4 396.7 809.1 394.5C810.7 392.3 811.6 389.0 813.2 388.3C814.8 387.6 815.7 387.8 817.3 387.6C819.5 387.3 820.7 387.6 822.9 386.9C824.5 386.2 825.4 382.8 827.0 382.8C828.4 382.8 829.1 384.4 830.5 386.2C831.9 388.0 832.5 391.8 833.9 391.8C836.1 391.8 837.2 391.8 839.4 391.8C840.5 391.8 841.1 398.1 842.2 400.1C843.6 402.1 844.3 402.1 845.7 402.1C847.6 402.1 848.6 398.0 850.5 395.9C852.1 394.1 853.0 393.2 854.6 392.5C857.4 391.8 858.7 392.5 861.5 391.8C863.2 391.1 864.0 389.0 865.7 386.2C867.3 383.5 868.2 381.1 869.8 378.0C871.5 374.8 872.3 372.5 874.0 370.4C875.6 368.3 876.5 367.6 878.1 367.6C880.3 367.6 881.4 367.6 883.6 368.3C885.8 369.0 887.0 369.1 889.2 371.0C890.8 372.4 891.7 373.7 893.3 376.6C895.0 379.6 895.8 383.0 897.5 385.6C899.7 389.0 900.8 391.8 903.0 391.8C905.5 391.8 906.7 389.7 909.2 389.7C911.4 389.7 912.5 393.1 914.7 393.8C917.7 394.5 919.3 394.5 922.3 394.5C925.6 394.5 927.3 394.5 930.6 394.5C932.3 394.5 933.1 394.5 934.8 396.6C936.2 398.7 936.8 403.8 938.2 406.2C940.1 408.6 941.0 408.6 942.9 408.6C945.2 408.6 946.4 405.0 948.7 402.7C951.5 399.9 952.9 396.8 955.7 395.7C958.5 394.6 959.9 394.6 962.7 394.6C965.5 394.6 966.9 399.2 969.7 400.4C973.5 401.6 975.3 400.6 979.1 401.6C981.4 402.2 982.6 404.6 984.9 404.6C987.3 404.6 988.4 400.4 990.8 400.4C993.6 400.4 995.0 402.3 997.8 403.9C1000.1 405.3 1001.3 407.9 1003.6 407.9C1005.9 407.9 1007.1 407.2 1009.4 406.2C1011.8 405.2 1012.9 402.7 1015.3 402.7C1017.6 402.7 1018.8 406.9 1021.1 406.9C1023.5 406.9 1024.6 405.7 1027.0 403.9C1029.8 401.7 1031.2 396.9 1034.0 396.9C1035.4 396.9 1036.1 402.5 1037.5 405.1C1039.3 408.6 1040.3 408.8 1042.1 412.1C1043.8 415.1 1044.6 417.5 1046.3 421.0C1047.7 423.9 1048.4 427.1 1049.8 428.0C1051.9 428.9 1053.0 428.9 1055.1 428.9C1057.9 428.9 1059.3 427.1 1062.1 427.1C1063.9 427.1 1064.7 430.6 1066.5 432.4C1067.9 433.8 1068.6 435.0 1070.0 435.0C1071.4 435.0 1072.1 429.8 1073.5 427.1C1075.2 423.8 1076.1 421.5 1077.8 420.1C1081.3 417.3 1083.1 416.6 1086.6 416.6C1088.0 416.6 1088.7 418.1 1090.1 419.3C1091.9 420.9 1092.7 423.6 1094.5 423.6C1096.3 423.6 1097.1 420.2 1098.9 417.5C1101.0 414.3 1102.0 411.8 1104.1 408.8C1105.1 407.3 1105.7 406.1 1106.7 406.1C1108.1 406.1 1108.8 409.5 1110.2 411.4C1111.6 413.3 1112.3 415.8 1113.7 415.8C1116.2 415.8 1117.4 415.5 1119.9 414.9C1122.0 414.4 1123.0 413.1 1125.1 413.1C1126.5 413.1 1127.2 414.9 1128.6 414.9C1130.7 414.9 1131.8 412.2 1133.9 410.5C1135.7 409.1 1136.5 407.0 1138.3 407.0C1139.7 407.0 1140.4 410.9 1141.8 413.1C1142.8 414.7 1143.4 416.6 1144.4 416.6C1147.2 416.6 1148.6 416.6 1151.4 416.6C1153.5 416.6 1154.6 417.1 1156.7 418.4C1158.1 419.2 1158.8 420.8 1160.2 421.9C1162.3 423.6 1163.3 425.4 1165.4 425.4C1167.2 425.4 1168.0 423.1 1169.8 421.9C1171.6 420.7 1172.4 419.3 1174.2 419.3C1176.3 419.3 1177.3 420.9 1179.4 421.9C1182.2 423.3 1183.6 423.7 1186.4 425.4C1188.9 426.9 1190.1 429.8 1192.6 429.8C1194.0 429.8 1194.7 427.2 1196.1 425.4C1197.1 424.1 1197.7 421.9 1198.7 421.9C1200.1 421.9 1200.8 424.9 1202.2 426.3C1203.6 427.7 1204.3 428.9 1205.7 428.9C1207.8 428.9 1208.8 425.9 1210.9 423.6C1213.0 421.3 1214.1 420.2 1216.2 417.5C1218.0 415.3 1218.8 413.3 1220.6 411.4C1222.0 409.9 1222.7 408.8 1224.1 408.8C1225.9 408.8 1226.7 414.0 1228.5 417.5C1230.2 421.0 1231.1 423.4 1232.8 426.3C1235.3 430.4 1236.5 432.5 1239.0 435.0C1241.1 437.1 1242.1 437.7 1244.2 437.7C1245.6 437.7 1246.3 435.0 1247.7 431.5C1248.8 428.7 1249.4 424.0 1250.5 421.9C1252.6 417.9 1253.7 416.1 1255.8 416.1C1257.9 416.1 1258.9 419.9 1261.0 422.8C1263.8 426.7 1265.2 433.0 1268.0 433.3C1270.8 433.6 1272.2 433.6 1275.0 433.6C1279.2 433.6 1281.3 433.6 1285.5 433.3C1288.3 433.0 1289.7 427.2 1292.5 423.6C1294.6 420.9 1295.7 417.5 1297.8 417.5C1299.6 417.5 1300.4 422.2 1302.2 425.4C1304.3 429.2 1305.3 432.4 1307.4 435.0C1309.9 438.0 1311.1 439.4 1313.6 439.4C1315.0 439.4 1315.7 438.5 1317.1 436.8C1319.2 434.3 1320.2 431.6 1322.3 428.9C1325.1 425.3 1326.5 424.4 1329.3 421.0C1331.7 418.1 1333.0 413.9 1335.4 413.1C1337.5 412.3 1338.6 412.3 1340.7 412.3C1342.5 412.3 1343.3 417.0 1345.1 419.3C1346.5 421.2 1347.2 422.0 1348.6 422.8C1350.7 423.6 1351.7 422.8 1353.8 423.6C1356.6 424.4 1358.0 428.3 1360.8 430.6C1363.6 432.9 1365.0 433.7 1367.8 435.0C1369.9 436.0 1371.0 436.4 1373.1 436.4C1375.9 436.4 1377.3 434.5 1380.1 432.4C1381.9 431.1 1382.7 428.0 1384.5 428.0C1386.3 428.0 1387.1 432.7 1388.9 434.2C1391.7 436.6 1393.1 436.2 1395.9 437.7C1398.3 439.0 1399.6 441.2 1402.0 441.2C1403.8 441.2 1404.6 438.0 1406.4 436.8C1409.2 434.9 1410.6 435.3 1413.4 433.3C1416.9 430.8 1418.6 428.0 1422.1 425.4C1424.9 423.3 1426.3 421.4 1429.1 421.4C1431.2 421.4 1432.3 422.0 1434.4 423.6C1437.2 425.7 1438.6 427.8 1441.4 430.6C1443.5 432.7 1444.5 435.9 1446.6 435.9C1449.4 435.9 1450.8 431.5 1453.6 428.9C1457.1 425.6 1458.9 424.5 1462.4 421.0C1465.2 418.2 1466.6 416.7 1469.4 413.1C1472.2 409.5 1473.6 403.2 1476.4 403.2C1478.5 403.2 1479.6 406.9 1481.7 409.6C1483.8 412.3 1484.8 414.8 1486.9 416.6C1489.7 419.0 1491.2 420.0 1494.0 420.0C1496.4 420.0 1497.6 417.6 1500.0 416.0C1502.4 414.4 1503.6 412.0 1506.0 412.0C1509.1 412.0 1510.6 417.2 1513.7 418.4C1516.1 419.6 1517.4 418.4 1519.8 419.6C1521.9 420.8 1523.0 424.2 1525.1 424.2C1527.7 424.2 1529.1 418.4 1531.7 418.4C1533.9 418.4 1535.1 421.9 1537.3 423.6C1539.8 425.4 1541.0 427.1 1543.5 427.1C1545.9 427.1 1547.2 422.4 1549.6 420.0C1552.1 417.5 1553.4 415.0 1555.9 415.0C1558.0 415.0 1559.0 415.0 1561.1 415.5C1563.5 416.0 1564.7 419.8 1567.1 421.5C1569.5 423.2 1570.8 424.1 1573.2 424.1C1576.0 424.1 1577.3 419.4 1580.1 417.2C1582.9 415.0 1584.2 415.2 1587.0 412.9C1589.1 411.1 1590.1 408.8 1592.2 406.9C1593.6 405.7 1594.2 405.1 1595.6 405.1C1597.0 405.1 1597.7 411.2 1599.1 411.2C1601.9 411.2 1603.2 405.5 1606.0 402.5C1608.4 399.9 1609.6 397.4 1612.0 397.4C1613.8 397.4 1614.6 400.1 1616.4 402.5C1618.1 404.9 1619.0 409.5 1620.7 409.5C1622.8 409.5 1623.8 409.5 1625.9 408.6C1627.6 407.7 1628.5 405.4 1630.2 402.5C1631.9 399.6 1632.8 396.5 1634.5 393.9C1635.7 392.2 1636.2 391.8 1637.4 391.8C1639.4 391.8 1640.3 395.1 1642.3 396.5C1645.1 398.4 1646.4 398.1 1649.2 400.0C1652.0 401.9 1653.3 403.9 1656.1 406.0C1658.9 408.1 1660.2 407.9 1663.0 410.3C1665.8 412.7 1667.1 415.1 1669.9 418.1C1672.0 420.3 1673.0 421.9 1675.1 423.3C1676.9 424.5 1679.7 424.6 1679.7 424.6" fill="none" stroke="#8085e9" stroke-width="5.1" stroke-linejoin="round" stroke-linecap="round"/>
<path d="M781.2 473.9C781.2 473.9 786.2 473.9 789.6 473.9C794.8 473.9 797.5 475.3 802.7 475.3C805.9 475.3 807.4 470.9 810.6 470.9C812.7 470.9 813.8 470.9 815.9 470.9C818.3 470.9 819.6 473.6 822.0 473.6C824.4 473.6 825.7 471.8 828.1 471.8C833.0 471.8 835.5 472.2 840.4 472.7C845.3 473.2 847.7 474.4 852.6 474.4C854.7 474.4 855.8 474.4 857.9 473.9C860.3 473.3 861.6 471.8 864.0 471.8C867.2 471.8 868.7 473.9 871.9 473.9C874.0 473.9 875.1 473.9 877.2 472.7C879.6 471.5 880.9 467.4 883.3 467.4C886.5 467.4 888.0 467.4 891.2 467.4C894.0 467.4 895.4 466.0 898.2 464.8C900.3 463.9 901.3 462.2 903.4 462.2C906.2 462.2 907.6 463.0 910.4 463.9C913.2 464.8 914.6 465.9 917.4 466.5C921.6 467.3 923.7 467.0 927.9 467.4C931.4 467.7 933.2 468.3 936.7 468.3C940.9 468.3 943.0 466.8 947.2 466.2C952.5 465.5 955.2 465.1 960.5 465.1C963.3 465.1 964.7 465.7 967.5 465.7C971.7 465.7 973.8 464.5 978.0 463.9C980.8 463.5 982.2 463.5 985.0 463.0C988.5 462.4 990.3 462.5 993.8 461.3C996.6 460.3 998.0 458.5 1000.8 457.4C1003.6 456.3 1005.0 456.3 1007.8 455.7C1011.3 455.0 1013.0 454.3 1016.5 454.3C1019.3 454.3 1020.8 456.9 1023.6 456.9C1025.7 456.9 1026.7 456.1 1028.8 455.7C1031.6 455.1 1033.0 454.3 1035.8 454.3C1039.3 454.3 1041.1 454.9 1044.6 456.9C1046.7 458.1 1047.7 462.2 1049.8 462.2C1052.3 462.2 1053.5 457.8 1056.0 457.8C1058.4 457.8 1059.7 459.5 1062.1 459.5C1065.6 459.5 1067.3 454.3 1070.8 454.3C1072.6 454.3 1073.4 461.3 1075.2 461.3C1077.0 461.3 1077.8 461.1 1079.6 460.4C1082.4 459.3 1083.8 457.8 1086.6 456.9C1089.4 456.0 1090.8 455.7 1093.6 455.7C1095.4 455.7 1096.2 459.5 1098.0 459.5C1100.1 459.5 1101.1 459.5 1103.2 459.5C1105.0 459.5 1105.8 455.5 1107.6 454.3C1110.4 452.4 1111.8 451.7 1114.6 451.7C1117.4 451.7 1118.8 451.7 1121.6 451.7C1123.7 451.7 1124.8 454.0 1126.9 454.3C1130.4 454.6 1132.1 454.3 1135.6 454.6C1138.4 454.9 1139.8 455.0 1142.6 455.7C1146.1 456.6 1147.9 458.7 1151.4 458.7C1154.2 458.7 1155.6 456.9 1158.4 456.9C1161.9 456.9 1163.7 457.4 1167.2 457.4C1170.7 457.4 1172.4 455.2 1175.9 455.2C1179.4 455.2 1181.2 456.9 1184.7 456.9C1188.2 456.9 1189.9 456.9 1193.4 456.9C1196.9 456.9 1198.7 454.4 1202.2 453.4C1205.0 452.6 1206.4 452.2 1209.2 452.2C1212.7 452.2 1214.5 452.5 1218.0 453.4C1220.4 454.0 1221.7 456.0 1224.1 456.0C1226.5 456.0 1227.8 452.9 1230.2 452.9C1233.7 452.9 1235.5 453.2 1239.0 453.4C1245.0 453.8 1248.0 454.3 1254.0 454.3C1258.9 454.3 1261.4 453.3 1266.3 452.5C1269.8 451.9 1271.5 450.8 1275.0 450.8C1277.1 450.8 1278.2 451.9 1280.3 452.2C1285.2 452.9 1287.6 452.2 1292.5 453.4C1296.0 454.6 1297.8 458.6 1301.3 459.5C1304.8 460.4 1306.6 460.4 1310.1 460.4C1312.9 460.4 1314.3 460.4 1317.1 460.4C1319.2 460.4 1320.2 454.2 1322.3 452.5C1324.4 450.8 1325.5 450.8 1327.6 450.8C1329.7 450.8 1330.7 453.4 1332.8 454.3C1335.6 455.2 1337.0 454.3 1339.8 455.2C1341.9 456.1 1343.0 465.7 1345.1 465.7C1347.9 465.7 1349.3 463.9 1352.1 463.9C1354.9 463.9 1356.3 465.4 1359.1 466.2C1362.6 467.2 1364.3 467.4 1367.8 468.3C1370.6 469.0 1372.0 470.1 1374.8 470.1C1377.6 470.1 1379.1 470.0 1381.9 469.2C1384.7 468.4 1386.1 466.2 1388.9 466.2C1392.4 466.2 1394.1 466.2 1397.6 466.2C1401.8 466.2 1403.9 466.2 1408.1 466.2C1410.9 466.2 1412.3 466.1 1415.1 464.8C1417.2 463.8 1418.3 460.4 1420.4 460.4C1422.5 460.4 1423.5 462.9 1425.6 463.9C1428.4 465.3 1429.8 466.5 1432.6 466.5C1436.1 466.5 1437.9 466.5 1441.4 466.2C1444.2 465.9 1445.6 463.9 1448.4 463.9C1451.9 463.9 1453.7 465.8 1457.2 466.5C1460.7 467.2 1462.4 466.6 1465.9 467.4C1468.7 468.0 1470.1 470.1 1472.9 470.1C1475.7 470.1 1477.1 470.1 1479.9 470.1C1481.3 470.1 1482.0 470.1 1483.4 467.4C1483.8 464.7 1483.9 458.9 1484.3 452.5C1484.9 442.5 1485.1 434.2 1485.7 426.3C1486.6 418.4 1487.1 418.4 1488.0 418.4C1490.6 418.4 1491.8 424.5 1494.4 424.5C1496.9 424.5 1498.1 420.7 1500.6 418.4C1503.4 415.8 1504.8 412.3 1507.6 412.3C1510.0 412.3 1511.3 416.9 1513.7 419.3C1516.9 422.5 1518.4 425.5 1521.6 426.3C1524.4 427.1 1525.8 427.1 1528.6 427.1C1531.4 427.1 1532.8 427.1 1535.6 427.1C1538.8 427.1 1540.3 428.9 1543.5 428.9C1545.9 428.9 1547.2 426.7 1549.6 424.5C1552.4 422.0 1553.8 417.2 1556.6 417.2C1558.7 417.2 1559.8 417.6 1561.9 419.3C1564.3 421.2 1565.6 426.3 1568.0 426.3C1571.2 426.3 1572.7 426.3 1575.9 426.3C1578.7 426.3 1580.1 422.2 1582.9 420.7C1585.7 419.2 1587.1 419.4 1589.9 418.9C1592.3 418.5 1593.6 418.9 1596.0 418.4C1598.1 417.9 1599.2 413.0 1601.3 410.5C1603.4 408.1 1604.4 406.1 1606.5 406.1C1609.0 406.1 1610.2 408.9 1612.7 411.4C1614.8 413.5 1615.8 417.5 1617.9 417.5C1620.3 417.5 1621.6 413.8 1624.0 411.4C1626.5 408.9 1627.7 405.3 1630.2 405.3C1632.6 405.3 1633.9 409.6 1636.3 409.6C1638.7 409.6 1640.0 404.4 1642.4 404.4C1644.5 404.4 1645.6 406.8 1647.7 408.8C1650.1 411.0 1651.4 413.3 1653.8 414.9C1656.2 416.5 1657.5 415.0 1659.9 416.6C1662.7 418.5 1664.1 421.2 1666.9 423.6C1669.4 425.7 1670.6 428.0 1673.1 428.0C1675.7 428.0 1679.7 425.9 1679.7 425.9" fill="none" stroke="#f15c80" stroke-width="5.1" stroke-linejoin="round" stroke-linecap="round"/>
<path d="M99.3 458.7C99.3 458.7 102.4 456.0 104.5 456.0C108.7 456.0 110.8 456.4 115.0 456.9C119.2 457.4 121.3 458.2 125.5 458.7C129.7 459.2 131.8 459.5 136.0 459.5C137.1 459.5 137.6 454.2 138.7 450.8C139.7 447.5 140.3 442.9 141.3 442.9C142.3 442.9 142.9 442.9 143.9 445.5C144.9 448.1 145.5 456.4 146.5 457.8C149.3 459.2 150.8 458.7 153.6 459.2C157.1 459.8 158.8 460.4 162.3 460.4C165.8 460.4 167.6 460.4 171.1 460.4C174.2 460.4 175.8 463.4 178.9 463.4C180.7 463.4 181.5 456.1 183.3 454.3C184.7 452.5 185.4 452.5 186.8 452.5C189.6 452.5 191.0 452.5 193.8 452.5C195.9 452.5 197.0 452.0 199.1 450.8C201.2 449.6 202.2 447.3 204.3 446.4C207.8 444.9 209.6 446.2 213.1 444.7C214.5 444.1 215.2 441.2 216.6 441.2C219.4 441.2 220.8 441.5 223.6 442.0C226.4 442.5 227.8 443.8 230.6 443.8C232.0 443.8 232.7 436.8 234.1 436.8C235.1 436.8 235.7 437.9 236.7 442.0C237.4 444.9 237.8 452.6 238.5 454.3C240.3 456.0 241.1 456.0 242.9 456.0C247.8 456.0 250.2 456.0 255.1 455.7C257.9 455.4 259.3 454.6 262.1 454.6C263.9 454.6 264.7 457.4 266.5 457.4C268.3 457.4 269.1 454.3 270.9 454.3C273.7 454.3 275.1 456.4 277.9 456.4C280.7 456.4 282.1 456.4 284.9 455.7C287.0 455.0 288.1 451.7 290.2 451.7C292.3 451.7 293.3 451.7 295.4 451.7C298.2 451.7 299.6 453.7 302.4 454.6C305.9 455.8 307.7 455.6 311.2 456.9C313.0 457.6 313.8 459.5 315.6 459.5C319.4 459.5 321.4 457.4 325.2 457.4C328.7 457.4 330.5 457.8 334.0 458.7C336.8 459.4 338.2 461.0 341.0 461.3C343.1 461.6 344.1 461.6 346.2 461.6C349.0 461.6 350.4 458.7 353.2 457.8C357.4 456.5 359.5 456.0 363.7 456.0C366.2 456.0 367.5 456.6 370.0 456.9C372.8 457.2 374.2 456.9 377.0 457.4C379.1 457.9 380.2 460.4 382.3 460.4C385.1 460.4 386.5 460.4 389.3 460.4C392.1 460.4 393.5 456.8 396.3 455.2C398.4 454.0 399.4 453.4 401.5 453.4C404.0 453.4 405.2 455.7 407.7 455.7C409.8 455.7 410.8 452.5 412.9 452.5C416.1 452.5 417.6 452.5 420.8 452.5C422.9 452.5 423.9 453.3 426.0 454.3C428.5 455.5 429.7 456.9 432.2 457.8C435.0 458.7 436.4 458.7 439.2 458.7C441.3 458.7 442.3 456.0 444.4 456.0C446.9 456.0 448.1 457.8 450.6 457.8C452.0 457.8 452.7 455.0 454.1 453.4C455.1 452.2 455.7 450.8 456.7 450.8C458.1 450.8 458.8 454.3 460.2 456.0C461.6 457.7 462.3 459.5 463.7 459.5C465.5 459.5 466.3 455.0 468.1 453.4C470.2 451.5 471.2 450.8 473.3 450.8C474.7 450.8 475.4 451.7 476.8 451.7C478.9 451.7 480.0 447.3 482.1 447.3C484.9 447.3 486.3 450.4 489.1 450.4C491.9 450.4 493.3 449.5 496.1 448.2C498.9 446.9 500.3 445.0 503.1 443.8C506.9 442.2 508.9 443.8 512.7 441.2C515.2 439.6 516.4 433.3 518.9 433.3C521.0 433.3 522.0 436.5 524.1 437.7C526.9 438.9 528.3 437.7 531.1 438.9C533.6 440.1 534.8 443.8 537.3 443.8C540.4 443.8 542.0 443.8 545.1 443.8C549.3 443.8 551.4 442.9 555.6 442.9C558.4 442.9 559.9 442.9 562.7 442.9C565.1 442.9 566.4 441.2 568.8 441.2C571.2 441.2 572.5 442.9 574.9 442.9C577.3 442.9 578.6 437.7 581.0 437.7C582.4 437.7 583.1 439.7 584.5 442.0C585.9 444.3 586.6 449.0 588.0 449.0C590.5 449.0 591.7 448.4 594.2 447.3C597.0 446.1 598.4 444.5 601.2 443.4C604.7 442.0 606.4 441.2 609.9 441.2C613.4 441.2 615.2 442.9 618.7 442.9C621.5 442.9 622.9 441.3 625.7 440.3C627.8 439.5 628.9 438.5 631.0 438.5C633.1 438.5 634.1 442.9 636.2 442.9C638.3 442.9 639.4 441.8 641.5 441.2C644.3 440.4 645.7 440.6 648.5 439.4C652.0 437.8 653.7 435.5 657.2 434.2C661.1 432.7 663.1 433.0 667.0 432.4C669.8 431.9 671.2 431.5 674.0 431.5C676.4 431.5 677.7 433.3 680.1 433.3C682.6 433.3 683.8 427.1 686.3 427.1C688.0 427.1 688.9 429.3 690.6 431.5C693.4 435.2 694.9 442.0 697.7 442.0C700.8 442.0 702.4 440.8 705.5 440.3C707.6 440.0 708.7 439.9 710.8 439.9C713.6 439.9 715.0 441.2 717.8 441.2C719.8 441.2 720.7 434.2 722.7 434.2C723.9 434.2 724.5 435.4 725.7 436.8C727.5 438.9 728.3 442.0 730.1 442.9C735.0 443.8 737.4 442.9 742.3 443.8C745.1 444.7 746.5 446.5 749.3 448.2C751.7 449.7 753.0 451.7 755.4 451.7C757.9 451.7 759.1 449.8 761.6 449.0C764.4 448.1 765.8 447.3 768.6 447.3C770.7 447.3 771.7 449.0 773.8 450.8C775.9 452.6 777.0 455.9 779.1 456.4C783.3 456.9 785.4 456.4 789.6 456.9C793.1 457.4 794.9 459.2 798.4 459.2C801.2 459.2 802.6 458.9 805.4 456.0C807.5 453.8 808.5 446.4 810.6 446.4C812.0 446.4 812.7 449.1 814.1 450.8C816.2 453.3 817.3 455.1 819.4 456.9C821.5 458.6 822.5 459.5 824.6 459.5C828.1 459.5 829.9 459.1 833.4 458.7C835.5 458.5 836.5 458.7 838.6 458.1C839.0 457.5 839.1 450.8 839.5 450.8C840.9 450.8 841.6 450.8 843.0 450.8C843.4 450.8 843.5 454.6 843.9 456.9C846.7 459.2 848.1 459.2 850.9 459.2C853.0 459.2 854.0 459.2 856.1 458.7C858.2 458.2 859.3 452.7 861.4 449.9C863.2 447.6 864.0 445.9 865.8 445.9C867.2 445.9 867.9 447.9 869.3 449.0C870.3 449.8 870.9 450.8 871.9 450.8C876.1 450.8 878.2 450.8 882.4 448.2C884.5 445.6 885.6 443.5 887.7 440.3C889.1 438.2 889.8 435.0 891.2 435.0C892.9 435.0 893.8 437.0 895.5 439.4C898.7 443.7 900.2 447.1 903.4 451.7C905.5 454.8 906.6 457.0 908.7 458.7C914.3 460.4 917.1 459.7 922.7 460.4C927.6 461.1 930.0 462.2 934.9 462.2C939.1 462.2 941.3 462.2 945.5 461.3C947.9 460.4 949.2 453.4 951.6 453.4C952.6 453.4 953.0 453.9 954.0 455.0C955.2 456.4 955.8 458.6 957.0 459.5C959.8 460.4 961.2 460.4 964.0 460.4C968.2 460.4 970.3 459.5 974.5 458.7C978.0 458.1 979.8 458.0 983.3 456.9C986.8 455.8 988.5 454.3 992.0 453.4C996.2 452.5 998.3 452.5 1002.5 452.5C1006.7 452.5 1008.8 452.5 1013.0 452.5C1015.8 452.5 1017.3 453.2 1020.1 454.3C1022.5 455.3 1023.8 457.8 1026.2 457.8C1028.6 457.8 1029.9 455.9 1032.3 455.2C1035.8 454.2 1037.6 453.4 1041.1 453.4C1043.9 453.4 1045.3 456.0 1048.1 456.0C1051.6 456.0 1053.3 453.4 1056.8 453.4C1059.6 453.4 1061.0 455.2 1063.8 455.2C1066.6 455.2 1068.0 451.7 1070.8 451.7C1072.9 451.7 1074.0 453.2 1076.1 454.3C1077.9 455.2 1078.7 456.9 1080.5 456.9C1083.7 456.9 1085.2 455.4 1088.4 454.3C1090.5 453.6 1091.5 454.3 1093.6 452.5C1095.7 450.7 1096.8 447.6 1098.9 443.8C1100.3 441.3 1101.0 438.5 1102.4 436.8C1104.5 434.3 1105.5 434.2 1107.6 433.3C1109.7 432.4 1110.8 432.4 1112.9 432.4C1115.0 432.4 1116.0 434.1 1118.1 435.0C1120.9 436.2 1122.3 436.0 1125.1 437.7C1126.5 438.5 1127.2 439.3 1128.6 441.2C1130.7 444.1 1131.8 449.0 1133.9 449.9C1137.4 450.8 1139.1 450.8 1142.6 450.8C1149.6 450.8 1153.2 447.3 1160.2 447.3C1167.2 447.3 1170.7 449.8 1177.7 449.9C1181.0 450.0 1182.7 450.0 1186.0 450.0C1189.7 450.0 1191.5 447.5 1195.2 446.4C1198.7 445.4 1200.4 445.2 1203.9 444.7C1207.4 444.2 1209.2 444.0 1212.7 443.8C1216.9 443.5 1219.0 443.4 1223.2 443.4C1227.4 443.4 1229.5 443.4 1233.7 443.4C1237.9 443.4 1240.0 442.0 1244.2 442.0C1246.7 442.0 1248.0 442.9 1250.5 442.9C1254.7 442.9 1256.8 442.9 1261.0 442.9C1263.8 442.9 1265.2 441.0 1268.0 440.3C1270.8 439.6 1272.2 439.4 1275.0 439.4C1279.2 439.4 1281.3 439.5 1285.5 442.0C1288.3 443.7 1289.7 449.9 1292.5 449.9C1294.6 449.9 1295.7 449.9 1297.8 449.0C1299.2 448.1 1299.9 443.5 1301.3 442.0C1303.4 439.7 1304.4 439.4 1306.5 439.4C1308.6 439.4 1309.7 441.2 1311.8 441.2C1313.9 441.2 1315.0 441.2 1317.1 440.3C1318.5 439.4 1319.2 434.2 1320.6 434.2C1322.7 434.2 1323.7 437.7 1325.8 437.7C1327.9 437.7 1329.0 437.7 1331.1 437.7C1332.5 437.7 1333.2 432.9 1334.6 431.5C1336.0 430.1 1336.7 430.1 1338.1 430.1C1340.2 430.1 1341.2 435.2 1343.3 437.7C1345.4 440.3 1346.5 441.6 1348.6 442.9C1351.4 444.7 1352.8 445.1 1355.6 445.5C1358.4 445.9 1359.8 445.7 1362.6 445.9C1366.1 446.1 1367.8 446.2 1371.3 446.4C1374.8 446.6 1376.6 446.9 1380.1 446.9C1382.2 446.9 1383.3 443.8 1385.4 442.0C1387.5 440.3 1388.5 439.2 1390.6 438.2C1392.7 437.2 1393.8 436.8 1395.9 436.8C1398.0 436.8 1399.0 437.7 1401.1 439.4C1403.2 441.2 1404.3 445.5 1406.4 445.5C1409.9 445.5 1411.6 445.5 1415.1 445.5C1417.1 445.5 1418.0 444.2 1420.0 443.8C1422.8 443.4 1424.2 443.4 1427.0 443.4C1429.1 443.4 1430.2 446.8 1432.3 447.6C1435.8 449.0 1437.5 448.4 1441.0 449.0C1443.8 449.5 1445.2 449.9 1448.0 450.4C1451.5 451.0 1453.3 451.7 1456.8 451.7C1460.3 451.7 1462.0 449.0 1465.5 449.0C1469.0 449.0 1470.8 450.4 1474.3 450.4C1477.8 450.4 1479.6 450.3 1483.1 449.0C1485.9 448.0 1487.3 444.7 1490.1 444.7C1492.9 444.7 1494.3 447.3 1497.1 447.3C1499.9 447.3 1501.3 446.6 1504.1 445.5C1506.9 444.4 1508.3 441.7 1511.1 441.7C1513.2 441.7 1514.2 441.7 1516.3 442.4C1518.8 443.1 1520.0 446.6 1522.5 448.2C1525.3 450.0 1526.7 450.8 1529.5 450.8C1531.9 450.8 1533.2 448.2 1535.6 448.2C1538.4 448.2 1539.8 448.2 1542.6 448.2C1546.1 448.2 1547.9 449.0 1551.4 449.0C1554.2 449.0 1555.6 447.8 1558.4 447.3C1561.2 446.8 1562.6 446.7 1565.4 446.4C1568.9 446.0 1570.6 446.4 1574.1 445.5C1576.9 444.6 1578.3 443.1 1581.1 442.0C1583.6 441.0 1584.8 440.3 1587.3 440.3C1589.7 440.3 1591.0 440.4 1593.4 441.7C1595.5 442.8 1596.5 446.4 1598.6 446.4C1601.4 446.4 1602.8 443.8 1605.6 443.8C1608.4 443.8 1609.9 445.0 1612.7 446.4C1615.5 447.8 1616.9 449.9 1619.7 450.8C1622.5 451.7 1623.9 451.7 1626.7 451.7C1629.5 451.7 1630.9 448.2 1633.7 448.2C1636.5 448.2 1637.9 449.4 1640.7 449.9C1643.5 450.4 1644.9 450.3 1647.7 450.8C1650.5 451.3 1651.9 452.5 1654.7 452.5C1656.8 452.5 1657.8 450.1 1659.9 448.2C1662.0 446.3 1663.1 443.4 1665.2 442.9C1668.0 442.4 1669.4 442.4 1672.2 442.4C1675.2 442.4 1679.7 442.9 1679.7 442.9" fill="none" stroke="#e4d354" stroke-width="5.1" stroke-linejoin="round" stroke-linecap="round"/>
<path d="M798.8 470.1C798.8 470.1 801.7 468.0 803.6 466.5C805.7 464.8 806.8 463.1 808.9 462.2C811.7 461.3 813.1 461.3 815.9 461.3C817.6 461.3 818.5 465.7 820.2 465.7C823.0 465.7 824.4 464.8 827.2 464.8C829.7 464.8 830.9 467.5 833.4 468.3C837.6 469.6 839.7 469.7 843.9 470.1C849.5 470.7 852.3 470.7 857.9 470.9C866.3 471.2 870.5 471.2 878.9 471.5C884.5 471.7 887.3 472.2 892.9 472.2C899.2 472.2 902.4 470.9 908.7 470.9C915.7 470.9 919.2 470.9 926.2 470.9C931.8 470.9 934.6 470.6 940.2 470.4C948.3 470.1 952.4 470.0 960.5 469.7C965.4 469.5 967.9 469.2 972.8 469.2C977.7 469.2 980.1 471.5 985.0 471.5C989.2 471.5 991.3 470.1 995.5 470.1C1000.4 470.1 1002.9 471.8 1007.8 471.8C1012.7 471.8 1015.2 470.1 1020.1 470.1C1025.0 470.1 1027.4 472.7 1032.3 472.7C1035.1 472.7 1036.5 469.2 1039.3 468.3C1042.8 467.4 1044.6 467.4 1048.1 467.4C1053.7 467.4 1056.5 467.4 1062.1 468.0C1066.3 468.6 1068.4 469.1 1072.6 470.1C1076.1 471.0 1077.8 472.7 1081.3 472.7C1084.1 472.7 1085.6 470.9 1088.4 470.9C1091.2 470.9 1092.6 471.5 1095.4 471.5C1096.6 471.5 1097.3 466.7 1098.5 464.8C1099.5 463.2 1100.0 462.7 1101.0 462.7C1103.0 462.7 1103.9 466.8 1105.9 468.0C1109.4 469.2 1111.1 469.2 1114.6 469.2C1118.8 469.2 1120.9 468.7 1125.1 468.3C1127.9 468.0 1129.3 468.3 1132.1 467.4C1133.9 466.5 1134.7 462.7 1136.5 460.4C1138.3 458.1 1139.1 456.8 1140.9 456.0C1144.4 455.2 1146.1 455.2 1149.6 455.2C1151.7 455.2 1152.8 457.4 1154.9 457.4C1157.7 457.4 1159.1 454.3 1161.9 453.4C1164.7 452.5 1166.1 453.2 1168.9 452.5C1171.7 451.8 1173.1 449.9 1175.9 449.9C1178.7 449.9 1180.1 450.6 1182.9 451.1C1185.7 451.6 1187.1 452.2 1189.9 452.2C1192.0 452.2 1193.1 449.9 1195.2 449.9C1197.3 449.9 1198.3 452.5 1200.4 452.5C1203.2 452.5 1204.6 449.9 1207.4 449.0C1210.9 447.9 1212.7 448.2 1216.2 447.6C1220.4 446.9 1222.5 446.6 1226.7 445.9C1230.9 445.2 1233.0 444.1 1237.2 444.1C1238.3 444.1 1238.9 445.2 1240.0 445.5C1244.2 446.8 1246.3 446.8 1250.5 448.2C1252.6 448.9 1253.7 450.8 1255.8 450.8C1260.0 450.8 1262.1 450.8 1266.3 449.9C1268.4 449.0 1269.4 442.8 1271.5 442.0C1272.9 441.2 1273.6 441.2 1275.0 441.2C1276.4 441.2 1277.1 445.9 1278.5 447.3C1281.3 450.1 1282.7 450.0 1285.5 451.7C1288.3 453.4 1289.7 454.8 1292.5 456.0C1294.6 456.9 1295.7 456.9 1297.8 456.9C1299.2 456.9 1299.9 453.9 1301.3 452.5C1302.7 451.1 1303.4 449.9 1304.8 449.9C1306.9 449.9 1308.0 452.5 1310.1 454.3C1312.2 456.0 1313.2 458.7 1315.3 458.7C1317.4 458.7 1318.5 455.8 1320.6 454.3C1322.0 453.3 1322.7 452.5 1324.1 452.5C1326.9 452.5 1328.3 454.4 1331.1 455.2C1334.6 456.2 1336.3 455.2 1339.8 456.9C1341.9 458.6 1343.0 463.4 1345.1 464.8C1347.2 466.2 1348.2 466.2 1350.3 466.2C1353.1 466.2 1354.5 466.0 1357.3 464.8C1360.1 463.6 1361.5 460.4 1364.3 460.4C1367.8 460.4 1369.6 460.8 1373.1 461.3C1377.3 461.9 1379.4 463.0 1383.6 463.0C1385.7 463.0 1386.8 460.4 1388.9 460.4C1391.7 460.4 1393.1 461.3 1395.9 461.3C1399.4 461.3 1401.1 460.5 1404.6 459.5C1408.8 458.3 1410.9 457.1 1415.1 456.0C1417.2 455.4 1418.3 455.2 1420.4 455.2C1423.9 455.2 1425.6 457.9 1429.1 459.5C1432.6 461.1 1434.4 463.0 1437.9 463.0C1441.4 463.0 1443.1 460.4 1446.6 460.4C1449.4 460.4 1450.8 463.0 1453.6 463.9C1457.1 464.8 1458.9 464.3 1462.4 464.8C1465.2 465.2 1466.6 466.2 1469.4 466.2C1472.2 466.2 1473.6 464.7 1476.4 463.9C1479.2 463.1 1480.6 462.2 1483.4 462.2C1487.6 462.2 1489.7 462.6 1493.9 463.0C1497.4 463.3 1499.2 463.5 1502.7 463.9C1506.1 464.3 1507.7 464.8 1511.1 464.8C1514.6 464.8 1516.3 461.3 1519.8 461.3C1522.3 461.3 1523.5 463.4 1526.0 463.4C1529.1 463.4 1530.7 463.0 1533.8 462.2C1536.6 461.5 1538.0 460.8 1540.8 459.5C1543.6 458.2 1545.0 457.1 1547.8 455.7C1550.6 454.3 1552.1 454.0 1554.9 452.5C1557.7 451.0 1559.1 449.4 1561.9 448.2C1564.3 447.2 1565.6 446.9 1568.0 446.9C1570.4 446.9 1571.7 449.9 1574.1 449.9C1576.9 449.9 1578.3 449.0 1581.1 449.0C1582.9 449.0 1583.7 451.7 1585.5 451.7C1587.3 451.7 1588.1 449.8 1589.9 449.0C1592.0 448.0 1593.0 447.3 1595.1 447.3C1597.2 447.3 1598.3 449.9 1600.4 449.9C1603.2 449.9 1604.6 445.9 1607.4 445.9C1609.8 445.9 1611.1 447.0 1613.5 448.2C1616.3 449.6 1617.7 452.5 1620.5 452.5C1623.7 452.5 1625.2 450.9 1628.4 449.9C1631.2 449.0 1632.6 447.6 1635.4 447.6C1638.2 447.6 1639.6 450.4 1642.4 451.7C1645.2 453.0 1646.6 454.3 1649.4 454.3C1651.8 454.3 1653.1 454.3 1655.5 454.3C1656.2 454.3 1656.6 449.2 1657.3 447.3C1658.3 444.6 1658.9 442.9 1659.9 442.9C1662.0 442.9 1663.1 445.1 1665.2 445.9C1668.7 447.2 1670.4 447.0 1673.9 448.2C1676.2 449.0 1679.7 450.8 1679.7 450.8" fill="none" stroke="#2b908f" stroke-width="5.1" stroke-linejoin="round" stroke-linecap="round"/>
<path d="M99.3 440.6C99.3 440.6 102.4 441.7 104.5 442.9C106.9 444.3 108.2 446.0 110.6 446.9C114.5 448.3 116.4 447.1 120.3 448.7C123.8 450.1 125.5 454.3 129.0 454.3C133.2 454.3 135.3 454.2 139.5 453.4C142.3 452.9 143.7 451.1 146.5 451.1C150.0 451.1 151.8 451.7 155.3 451.7C157.4 451.7 158.5 449.1 160.6 448.2C163.4 447.3 164.8 448.0 167.6 447.3C171.8 446.2 173.9 443.8 178.1 443.8C180.9 443.8 182.3 443.8 185.1 443.8C187.9 443.8 189.3 445.9 192.1 445.9C194.2 445.9 195.2 444.7 197.3 444.7C199.4 444.7 200.5 447.6 202.6 447.6C205.4 447.6 206.8 446.8 209.6 446.4C213.8 445.8 215.9 445.2 220.1 445.2C223.6 445.2 225.4 445.2 228.9 445.2C231.0 445.2 232.0 445.0 234.1 443.8C236.2 442.5 237.3 438.9 239.4 438.9C242.2 438.9 243.6 439.9 246.4 439.9C249.2 439.9 250.6 439.9 253.4 439.4C255.5 438.9 256.5 438.2 258.6 436.8C260.7 435.4 261.8 433.3 263.9 432.4C265.7 431.5 266.5 431.5 268.3 431.5C270.0 431.5 270.9 433.2 272.6 435.0C274.4 436.8 275.2 440.6 277.0 440.6C279.5 440.6 280.7 440.3 283.2 438.9C286.0 437.4 287.4 433.3 290.2 433.3C292.3 433.3 293.3 436.5 295.4 437.7C298.2 439.4 299.6 438.6 302.4 440.6C304.5 442.1 305.6 444.5 307.7 446.4C309.1 447.6 309.8 448.4 311.2 448.4C715.6 448.4 917.9 448.4 1322.3 448.4C1324.4 448.4 1325.5 447.5 1327.6 446.4C1329.7 445.3 1330.7 442.9 1332.8 442.9C1334.9 442.9 1336.0 442.9 1338.1 443.8C1340.2 444.7 1341.2 447.4 1343.3 449.0C1345.4 450.6 1346.5 451.7 1348.6 451.7C1350.7 451.7 1351.7 448.2 1353.8 448.2C1357.3 448.2 1359.1 448.2 1362.6 448.2C1366.1 448.2 1367.8 449.8 1371.3 450.8C1374.8 451.8 1376.6 453.4 1380.1 453.4C1382.9 453.4 1384.3 452.6 1387.1 451.7C1390.6 450.5 1392.4 448.2 1395.9 448.2C1398.7 448.2 1400.1 449.9 1402.9 450.8C1405.7 451.7 1407.1 452.5 1409.9 452.5C1412.5 452.5 1413.9 448.8 1416.5 447.3C1418.6 446.1 1419.7 445.9 1421.8 445.9C1423.9 445.9 1424.9 449.4 1427.0 450.8C1429.8 452.7 1431.2 453.2 1434.0 454.3C1436.8 455.4 1438.2 456.4 1441.0 456.4C1443.8 456.4 1445.2 454.1 1448.0 453.4C1451.5 452.5 1453.3 452.5 1456.8 452.5C1459.6 452.5 1461.0 453.3 1463.8 454.3C1466.6 455.3 1468.0 457.4 1470.8 457.4C1473.6 457.4 1475.0 457.4 1477.8 456.9C1481.3 456.4 1483.1 455.7 1486.6 454.3C1489.0 453.3 1490.3 450.8 1492.7 450.8C1495.1 450.8 1496.4 452.7 1498.8 454.3C1501.6 456.2 1503.0 459.5 1505.8 459.5C1508.6 459.5 1510.0 459.5 1512.8 459.5C1515.6 459.5 1517.0 457.4 1519.8 456.9C1522.6 456.4 1524.0 456.4 1526.8 456.4C1529.6 456.4 1531.0 459.5 1533.8 459.5C1537.3 459.5 1539.1 458.6 1542.6 457.8C1545.4 457.2 1546.8 456.5 1549.6 456.0C1552.4 455.5 1553.8 455.2 1556.6 455.2C1559.4 455.2 1560.8 455.5 1563.6 455.7C1566.4 455.9 1567.8 456.4 1570.6 456.4C1572.7 456.4 1573.8 454.3 1575.9 454.3C1578.0 454.3 1579.0 456.8 1581.1 457.8C1583.2 458.8 1584.3 459.5 1586.4 459.5C1589.2 459.5 1590.6 457.6 1593.4 456.0C1596.2 454.4 1597.6 452.6 1600.4 451.7C1603.2 450.8 1604.6 450.8 1607.4 450.8C1610.2 450.8 1611.6 453.6 1614.4 455.2C1617.2 456.8 1618.6 458.7 1621.4 458.7C1624.2 458.7 1625.6 456.4 1628.4 454.3C1630.8 452.5 1632.1 449.0 1634.5 449.0C1637.0 449.0 1638.2 451.2 1640.7 452.5C1643.5 454.0 1644.9 455.1 1647.7 456.0C1650.5 456.9 1651.9 456.9 1654.7 456.9C1657.5 456.9 1658.9 455.3 1661.7 454.3C1664.5 453.3 1665.9 451.7 1668.7 451.7C1671.5 451.7 1672.9 456.0 1675.7 456.0C1677.3 456.0 1679.7 455.7 1679.7 455.7" fill="none" stroke="#f45b5b" stroke-width="5.1" stroke-linejoin="round" stroke-linecap="round"/>
<path d="M99.3 453.4C99.3 453.4 99.8 456.5 100.1 456.9C101.9 459.3 102.7 460.4 104.5 460.4C106.9 460.4 108.2 458.4 110.6 458.1C114.1 457.8 115.9 458.1 119.4 457.8C121.2 457.5 122.0 457.8 123.8 454.3C124.8 450.8 125.4 446.6 126.4 440.3C127.4 434.0 128.0 429.9 129.0 422.8C130.4 413.3 131.1 405.6 132.5 398.7C134.4 389.4 135.3 387.3 137.2 382.4C139.1 377.5 140.0 374.2 141.9 374.2C143.3 374.2 144.0 376.6 145.4 378.9C146.5 380.8 147.1 383.4 148.2 384.7C149.9 386.7 150.7 384.7 152.4 387.1C153.8 389.5 154.5 391.4 155.9 396.4C157.5 402.1 158.3 413.9 159.9 413.9C162.5 413.9 163.8 412.0 166.4 412.0C169.2 412.0 170.6 412.0 173.4 412.0C174.5 412.0 175.1 406.4 176.2 403.4C177.4 400.2 178.0 396.4 179.2 396.4C180.6 396.4 181.3 400.6 182.7 403.4C184.6 407.1 185.5 410.4 187.4 412.7C189.3 415.0 190.2 415.1 192.1 415.1C194.0 415.1 194.9 414.2 196.8 410.4C198.2 407.6 198.9 403.6 200.3 398.7C201.7 393.8 202.4 389.2 203.8 385.9C205.2 382.6 205.9 382.4 207.3 382.4C208.7 382.4 209.4 382.4 210.8 383.6C211.7 384.8 212.2 391.0 213.1 396.4C214.5 404.6 215.2 412.2 216.6 417.4C218.5 424.4 219.4 426.8 221.3 426.8C223.6 426.8 224.8 420.2 227.1 420.2C229.9 420.2 231.3 420.9 234.1 420.9C236.5 420.9 237.6 417.9 240.0 417.9C241.4 417.9 242.1 422.2 243.5 424.4C244.9 426.6 245.6 429.1 247.0 429.1C249.8 429.1 251.2 422.8 254.0 418.6C256.8 414.4 258.2 411.5 261.0 408.1C262.8 405.9 263.8 404.6 265.6 404.6C266.8 404.6 267.5 409.2 268.7 415.1C269.8 420.4 270.4 432.6 271.5 432.6C272.9 432.6 273.6 423.2 275.0 417.4C276.4 411.6 277.1 406.6 278.5 403.4C280.4 399.1 281.3 401.5 283.2 398.7C286.0 394.5 287.4 389.5 290.2 385.9C292.5 382.9 293.7 385.9 296.0 382.4C297.4 378.9 298.1 371.4 299.5 366.0C300.9 360.6 301.6 355.5 303.0 355.5C303.9 355.5 304.4 365.3 305.3 370.7C306.5 378.0 307.2 387.1 308.4 387.1C310.0 387.1 310.7 378.5 312.3 373.0C314.2 366.4 315.1 362.3 317.0 356.7C318.4 352.5 319.1 350.8 320.5 348.5C323.3 346.2 324.7 346.2 327.5 346.2C328.9 346.2 329.6 355.4 331.0 361.4C332.9 369.4 333.8 377.2 335.7 381.2C337.6 385.2 338.5 385.2 340.4 385.2C342.7 385.2 343.9 385.2 346.2 383.6C347.6 382.0 348.3 364.1 349.7 352.0C350.6 344.0 351.1 333.4 352.0 333.4C353.2 333.4 353.9 337.9 355.1 342.7C356.4 347.7 357.0 357.9 358.3 357.9C360.5 357.9 361.5 348.5 363.7 348.5C366.1 348.5 367.2 355.6 369.6 359.0C372.4 363.1 373.8 367.2 376.6 367.2C378.9 367.2 380.1 362.5 382.4 362.5C383.8 362.5 384.5 366.5 385.9 369.5C387.3 372.5 388.0 377.7 389.4 377.7C390.8 377.7 391.5 370.9 392.9 367.2C393.8 364.8 394.3 362.5 395.2 362.5C396.6 362.5 397.3 369.5 398.7 373.0C399.9 376.1 400.6 378.9 401.8 378.9C403.4 378.9 404.1 374.8 405.7 371.9C409.0 365.9 410.6 356.7 413.9 356.7C419.5 356.7 422.3 356.7 427.9 356.7C430.7 356.7 432.1 358.1 434.9 360.2C436.8 361.6 437.7 365.6 439.6 365.6C441.9 365.6 443.1 357.0 445.4 352.0C447.8 346.9 448.9 340.4 451.3 340.4C453.6 340.4 454.8 345.3 457.1 348.5C459.5 351.8 460.6 356.7 463.0 356.7C465.6 356.7 466.9 347.4 469.5 347.4C470.9 347.4 471.6 349.2 473.0 351.0C474.6 353.1 475.4 355.1 477.0 357.2C479.0 359.9 480.1 363.0 482.1 363.0C484.3 363.0 485.3 354.2 487.5 354.2C489.9 354.2 491.0 358.8 493.4 361.9C496.2 365.6 497.6 367.8 500.4 371.2C503.0 374.3 504.3 378.2 506.9 378.2C509.4 378.2 510.7 371.8 513.2 367.7C515.5 363.9 516.7 358.4 519.0 358.4C521.4 358.4 522.5 368.9 524.9 368.9C530.5 368.9 533.3 365.8 538.9 365.8C541.2 365.8 542.4 368.9 544.7 368.9C547.1 368.9 548.2 360.0 550.6 356.0C552.9 352.1 554.1 349.0 556.4 349.0C559.2 349.0 560.6 354.2 563.4 358.4C566.2 362.6 567.6 366.3 570.4 370.1C572.3 372.7 573.2 374.3 575.1 374.3C577.0 374.3 577.9 370.1 579.8 366.6C581.6 363.2 582.6 359.5 584.4 357.2C587.2 353.6 588.6 353.1 591.4 351.8C595.2 350.0 597.0 350.0 600.8 349.5C605.0 349.0 607.1 349.0 611.3 349.0C613.6 349.0 614.8 354.0 617.1 356.0C619.9 358.4 621.3 359.0 624.1 360.2C626.9 361.4 628.3 360.2 631.1 361.9C633.5 363.6 634.6 368.9 637.0 368.9C639.3 368.9 640.5 366.0 642.8 364.9C645.6 363.5 647.0 362.6 649.8 362.6C652.6 362.6 654.0 365.4 656.8 366.6C658.7 367.4 659.6 367.7 661.5 367.7C664.3 367.7 665.7 361.2 668.5 358.4C671.3 355.6 672.7 353.7 675.5 353.7C678.3 353.7 679.7 353.7 682.5 354.9C685.3 356.1 686.7 359.2 689.5 360.2C691.8 361.2 693.0 361.2 695.3 361.2C697.7 361.2 698.8 357.3 701.2 354.9C704.0 352.0 705.4 347.9 708.2 347.9C711.0 347.9 712.4 347.9 715.2 347.9C718.5 347.9 720.1 356.0 723.4 356.0C726.2 356.0 727.6 350.9 730.4 350.9C733.6 350.9 735.3 350.9 738.5 351.4C742.3 351.9 744.1 352.6 747.9 354.9C751.1 356.8 752.8 359.2 756.0 361.9C758.8 364.3 760.2 365.4 763.0 367.7C764.3 368.8 764.9 370.4 766.2 370.4C768.4 370.4 769.6 362.8 771.8 362.8C774.6 362.8 775.9 369.6 778.7 371.7C781.5 373.8 782.8 372.1 785.6 373.8C787.8 375.1 788.9 377.6 791.1 379.3C793.9 381.5 795.2 383.5 798.0 383.5C800.2 383.5 801.3 379.3 803.5 379.3C805.2 379.3 806.0 383.7 807.7 386.2C809.9 389.5 811.0 392.4 813.2 393.8C816.0 395.2 817.3 394.8 820.1 395.2C823.4 395.7 825.1 395.9 828.4 395.9C831.7 395.9 833.4 395.2 836.7 395.2C838.3 395.2 839.2 398.5 840.8 399.4C843.0 400.7 844.2 400.7 846.4 400.7C848.6 400.7 849.7 398.1 851.9 396.6C854.1 395.1 855.2 393.1 857.4 393.1C859.3 393.1 860.3 393.1 862.2 393.8C863.3 394.5 863.9 399.0 865.0 400.1C867.5 402.6 868.7 401.9 871.2 402.8C874.5 404.1 876.2 404.7 879.5 405.6C883.4 406.7 885.3 406.4 889.2 407.7C892.0 408.6 893.3 411.1 896.1 411.1C898.9 411.1 900.2 406.3 903.0 406.3C905.2 406.3 906.3 408.8 908.5 410.4C911.0 412.2 912.2 414.6 914.7 414.6C917.2 414.6 918.4 410.2 920.9 409.0C924.8 407.1 926.7 407.5 930.6 407.0C934.4 406.5 936.2 406.3 940.0 406.3C943.5 406.3 945.2 407.5 948.7 408.6C952.5 409.8 954.3 410.5 958.1 412.1C960.9 413.3 962.3 415.6 965.1 415.6C967.9 415.6 969.3 409.7 972.1 407.4C974.9 405.1 976.3 405.0 979.1 403.9C981.0 403.1 981.9 403.9 983.8 402.7C985.2 401.5 985.9 395.5 987.3 392.2C988.5 389.4 989.1 387.6 990.3 387.6C991.9 387.6 992.7 392.2 994.3 393.4C997.5 395.9 999.2 394.9 1002.4 396.9C1005.2 398.6 1006.6 400.4 1009.4 402.7C1012.2 405.0 1013.6 406.3 1016.4 408.6C1019.2 411.0 1020.7 411.3 1023.5 414.4C1026.3 417.4 1027.7 420.9 1030.5 423.8C1031.9 425.3 1032.7 423.8 1034.1 425.4C1036.2 427.0 1037.2 431.7 1039.3 435.0C1041.4 438.4 1042.5 442.0 1044.6 442.0C1046.0 442.0 1046.7 440.6 1048.1 439.4C1049.5 438.2 1050.2 435.9 1051.6 435.9C1053.0 435.9 1053.7 441.2 1055.1 441.2C1057.9 441.2 1059.3 441.2 1062.1 441.2C1066.3 441.2 1068.4 439.4 1072.6 439.4C1075.4 439.4 1076.8 439.9 1079.6 439.9C1082.4 439.9 1083.8 439.4 1086.6 439.4C1088.7 439.4 1089.8 442.9 1091.9 442.9C1093.3 442.9 1094.0 442.6 1095.4 440.3C1096.8 438.0 1097.5 432.4 1098.9 431.5C1099.9 430.6 1100.5 430.6 1101.5 430.6C1103.3 430.6 1104.1 436.8 1105.9 436.8C1107.3 436.8 1108.0 434.3 1109.4 432.4C1110.8 430.5 1111.5 427.1 1112.9 427.1C1114.3 427.1 1115.0 429.6 1116.4 431.5C1118.2 433.9 1119.0 436.0 1120.8 437.7C1123.2 440.1 1124.5 441.7 1126.9 441.7C1130.4 441.7 1132.1 441.7 1135.6 441.7C1139.1 441.7 1140.9 443.7 1144.4 444.7C1147.2 445.5 1148.6 446.4 1151.4 446.4C1153.8 446.4 1155.1 445.1 1157.5 442.9C1159.3 441.3 1160.1 437.1 1161.9 437.1C1164.0 437.1 1165.1 441.1 1167.2 442.0C1170.7 442.9 1172.4 442.9 1175.9 442.9C1180.1 442.9 1182.2 442.6 1186.4 442.0C1189.9 441.5 1191.7 441.2 1195.2 440.3C1198.7 439.4 1200.4 438.4 1203.9 437.7C1207.4 437.0 1209.2 436.8 1212.7 436.8C1216.2 436.8 1218.0 438.2 1221.5 439.4C1224.3 440.3 1225.7 442.0 1228.5 442.0C1231.3 442.0 1232.7 439.4 1235.5 439.4C1237.3 439.4 1238.2 440.2 1240.0 441.2C1242.8 442.7 1244.2 445.5 1247.0 445.5C1249.1 445.5 1250.2 442.3 1252.3 441.2C1255.1 439.8 1256.5 440.4 1259.3 439.4C1262.4 438.3 1264.0 435.9 1267.1 435.9C1268.9 435.9 1269.7 442.0 1271.5 442.0C1273.6 442.0 1274.7 442.0 1276.8 442.0C1280.3 442.0 1282.0 439.4 1285.5 439.4C1287.3 439.4 1288.1 445.4 1289.9 447.3C1292.3 449.9 1293.6 450.8 1296.0 450.8C1298.1 450.8 1299.2 447.4 1301.3 445.5C1302.7 444.2 1303.4 442.9 1304.8 442.9C1306.6 442.9 1307.4 447.7 1309.2 449.9C1312.0 453.3 1313.4 456.9 1316.2 456.9C1318.0 456.9 1318.8 452.9 1320.6 449.9C1322.7 446.3 1323.7 443.6 1325.8 440.3C1328.6 435.9 1330.0 433.8 1332.8 430.6C1335.2 427.8 1336.5 425.4 1338.9 425.4C1340.7 425.4 1341.5 426.8 1343.3 428.9C1345.4 431.4 1346.5 434.7 1348.6 436.8C1351.4 439.6 1352.8 440.7 1355.6 441.2C1359.8 441.7 1361.9 441.4 1366.1 441.7C1370.3 442.0 1372.4 441.7 1376.6 442.9C1379.4 444.1 1380.8 447.3 1383.6 447.3C1387.8 447.3 1389.9 444.7 1394.1 444.7C1396.9 444.7 1398.3 448.2 1401.1 448.2C1405.3 448.2 1407.4 448.2 1411.6 448.2C1415.0 448.2 1416.6 446.9 1420.0 446.4C1422.8 446.0 1424.2 445.9 1427.0 445.9C1429.8 445.9 1431.2 449.5 1434.0 450.8C1437.5 452.5 1439.3 453.4 1442.8 453.4C1445.6 453.4 1447.0 453.4 1449.8 453.4C1452.6 453.4 1454.0 455.7 1456.8 455.7C1459.6 455.7 1461.0 453.9 1463.8 452.2C1466.2 450.7 1467.5 447.6 1469.9 447.6C1472.3 447.6 1473.6 451.7 1476.0 451.7C1478.8 451.7 1480.3 451.7 1483.1 451.1C1485.9 450.5 1487.3 447.7 1490.1 447.3C1492.9 446.9 1494.3 446.9 1497.1 446.9C1499.9 446.9 1501.3 450.1 1504.1 451.7C1505.8 452.7 1506.7 453.4 1508.4 453.4C1510.9 453.4 1512.1 450.3 1514.6 449.0C1516.7 447.9 1517.7 447.3 1519.8 447.3C1522.6 447.3 1524.0 451.1 1526.8 452.5C1529.6 453.9 1531.0 454.3 1533.8 454.3C1535.9 454.3 1537.0 451.1 1539.1 451.1C1541.9 451.1 1543.3 452.4 1546.1 453.4C1548.2 454.2 1549.3 455.7 1551.4 455.7C1553.5 455.7 1554.5 452.5 1556.6 452.5C1559.4 452.5 1560.8 453.4 1563.6 453.4C1566.4 453.4 1567.8 453.4 1570.6 452.5C1573.0 451.6 1574.3 449.8 1576.7 448.2C1578.5 447.0 1579.3 445.5 1581.1 445.5C1583.2 445.5 1584.3 448.5 1586.4 449.9C1589.2 451.7 1590.6 453.4 1593.4 453.4C1596.2 453.4 1597.6 450.8 1600.4 450.8C1602.5 450.8 1603.5 451.3 1605.6 452.5C1608.4 454.1 1609.9 456.1 1612.7 457.8C1615.1 459.3 1616.4 460.4 1618.8 460.4C1621.2 460.4 1622.5 458.1 1624.9 456.9C1627.7 455.5 1629.1 453.9 1631.9 453.9C1634.7 453.9 1636.1 455.6 1638.9 456.9C1641.7 458.2 1643.1 459.4 1645.9 460.4C1649.4 461.7 1651.2 462.7 1654.7 462.7C1657.5 462.7 1658.9 462.6 1661.7 461.3C1664.5 460.0 1665.9 457.7 1668.7 456.0C1671.5 454.3 1672.9 452.9 1675.7 452.9C1677.3 452.9 1679.7 456.9 1679.7 456.9" fill="none" stroke="#91e8e1" stroke-width="5.1" stroke-linejoin="round" stroke-linecap="round"/>
</svg>
<div class="t" style="left:688.5px;top:28.5px;font:normal 21.88px/1 'DejaVu Sans','Liberation Sans',sans-serif;color:#333;"><span style="letter-spacing:-0.65px">TIOBE</span> Programming Community Index</div>
<div class="t" style="left:742px;top:60.5px;font:normal 14.6px/1 'DejaVu Sans','Liberation Sans',sans-serif;color:#666;">Source: www.tiobe.com</div>
<div class="t" style="left:64.2px;top:472.6px;font:normal 13.75px/1 'DejaVu Sans','Liberation Sans',sans-serif;color:#666;transform:translateX(-100%);">0</div>
<div class="t" style="left:64.2px;top:409.4px;font:normal 13.75px/1 'DejaVu Sans','Liberation Sans',sans-serif;color:#666;transform:translateX(-100%);">5</div>
<div class="t" style="left:64.2px;top:345.8px;font:normal 13.75px/1 'DejaVu Sans','Liberation Sans',sans-serif;color:#666;transform:translateX(-100%);">10</div>
<div class="t" style="left:64.2px;top:283.4px;font:normal 13.75px/1 'DejaVu Sans','Liberation Sans',sans-serif;color:#666;transform:translateX(-100%);">15</div>
<div class="t" style="left:64.2px;top:220.5px;font:normal 13.75px/1 'DejaVu Sans','Liberation Sans',sans-serif;color:#666;transform:translateX(-100%);">20</div>
<div class="t" style="left:64.2px;top:156.8px;font:normal 13.75px/1 'DejaVu Sans','Liberation Sans',sans-serif;color:#666;transform:translateX(-100%);">25</div>
<div class="t" style="left:64.2px;top:93.4px;font:normal 13.75px/1 'DejaVu Sans','Liberation Sans',sans-serif;color:#666;transform:translateX(-100%);">30</div>
<div class="t" style="left:136.2px;top:490.5px;font:normal 13.5px/1 'DejaVu Sans','Liberation Sans',sans-serif;color:#666;transform:translateX(-50%);">2002</div>
<div class="t" style="left:283.6px;top:490.5px;font:normal 13.5px/1 'DejaVu Sans','Liberation Sans',sans-serif;color:#666;transform:translateX(-50%);">2004</div>
<div class="t" style="left:432.4px;top:490.5px;font:normal 13.5px/1 'DejaVu Sans','Liberation Sans',sans-serif;color:#666;transform:translateX(-50%);">2006</div>
<div class="t" style="left:579.6px;top:490.5px;font:normal 13.5px/1 'DejaVu Sans','Liberation Sans',sans-serif;color:#666;transform:translateX(-50%);">2008</div>
<div class="t" style="left:728.5px;top:490.5px;font:normal 13.5px/1 'DejaVu Sans','Liberation Sans',sans-serif;color:#666;transform:translateX(-50%);">2010</div>
<div class="t" style="left:876.3px;top:490.5px;font:normal 13.5px/1 'DejaVu Sans','Liberation Sans',sans-serif;color:#666;transform:translateX(-50%);">2012</div>
<div class="t" style="left:1025.0px;top:490.5px;font:normal 13.5px/1 'DejaVu Sans','Liberation Sans',sans-serif;color:#666;transform:translateX(-50%);">2014</div>
<div class="t" style="left:1172.5px;top:490.5px;font:normal 13.5px/1 'DejaVu Sans','Liberation Sans',sans-serif;color:#666;transform:translateX(-50%);">2016</div>
<div class="t" style="left:1321.1px;top:490.5px;font:normal 13.5px/1 'DejaVu Sans','Liberation Sans',sans-serif;color:#666;transform:translateX(-50%);">2018</div>
<div class="t" style="left:1468.6px;top:490.5px;font:normal 13.5px/1 'DejaVu Sans','Liberation Sans',sans-serif;color:#666;transform:translateX(-50%);">2020</div>
<div class="t" style="left:1617.3px;top:490.5px;font:normal 13.5px/1 'DejaVu Sans','Liberation Sans',sans-serif;color:#666;transform:translateX(-50%);">2022</div>
<div class="t" style="left:26.5px;top:289.5px;font:normal 13.6px/1 'DejaVu Sans','Liberation Sans',sans-serif;color:#666;transform:translate(-50%,-50%) rotate(-90deg);">Ratings (%)</div>
<div style="position:absolute;left:349px;top:535.6px;width:20px;height:5.2px;background:#7cb5ec"></div>
<div class="t" style="left:375.4px;top:530.5px;font:normal 14.2px/1 'DejaVu Sans','Liberation Sans',sans-serif;color:#333;-webkit-text-stroke:0.5px #333;">Python</div>
<div style="position:absolute;left:450.5px;top:535.6px;width:20px;height:5.2px;background:#434348"></div>
<div class="t" style="left:476.9px;top:530.5px;font:normal 14.2px/1 'DejaVu Sans','Liberation Sans',sans-serif;color:#333;-webkit-text-stroke:0.5px #333;">C</div>
<div style="position:absolute;left:514px;top:535.6px;width:20px;height:5.2px;background:#90ed7d"></div>
<div class="t" style="left:539.2px;top:530.5px;font:normal 14.2px/1 'DejaVu Sans','Liberation Sans',sans-serif;color:#333;-webkit-text-stroke:0.5px #333;">Java</div>
<div style="position:absolute;left:598.9px;top:535.6px;width:20px;height:5.2px;background:#f7a35c"></div>
<div class="t" style="left:625.0px;top:530.5px;font:normal 14.2px/1 'DejaVu Sans','Liberation Sans',sans-serif;color:#333;-webkit-text-stroke:0.5px #333;">C++</div>
<div style="position:absolute;left:685.4px;top:535.6px;width:20px;height:5.2px;background:#8085e9"></div>
<div class="t" style="left:711.5px;top:530.5px;font:normal 14.2px/1 'DejaVu Sans','Liberation Sans',sans-serif;color:#333;-webkit-text-stroke:0.5px #333;">C#</div>
<div style="position:absolute;left:758.6px;top:535.6px;width:20px;height:5.2px;background:#f15c80"></div>
<div class="t" style="left:785.4px;top:530.5px;font:normal 14.2px/1 'DejaVu Sans','Liberation Sans',sans-serif;color:#333;-webkit-text-stroke:0.5px #333;">Visual Basic</div>
<div style="position:absolute;left:898.9px;top:535.6px;width:20px;height:5.2px;background:#e4d354"></div>
<div class="t" style="left:924.4px;top:530.5px;font:normal 14.2px/1 'DejaVu Sans','Liberation Sans',sans-serif;color:#333;-webkit-text-stroke:0.5px #333;">JavaScript</div>
<div style="position:absolute;left:1024.7px;top:535.6px;width:20px;height:5.2px;background:#2b908f"></div>
<div class="t" style="left:1050.8px;top:530.5px;font:normal 14.2px/1 'DejaVu Sans','Liberation Sans',sans-serif;color:#333;-webkit-text-stroke:0.5px #333;">Assembly language</div>
<div style="position:absolute;left:1219.4px;top:535.6px;width:20px;height:5.2px;background:#f45b5b"></div>
<div class="t" style="left:1245.5px;top:530.5px;font:normal 14.2px/1 'DejaVu Sans','Liberation Sans',sans-serif;color:#333;-webkit-text-stroke:0.5px #333;">SQL</div>
<div style="position:absolute;left:1301.6px;top:535.6px;width:20px;height:5.2px;background:#91e8e1"></div>
<div class="t" style="left:1327.7px;top:530.5px;font:normal 14.2px/1 'DejaVu Sans','Liberation Sans',sans-serif;color:#333;-webkit-text-stroke:0.5px #333;">PHP</div>
</body></html>
